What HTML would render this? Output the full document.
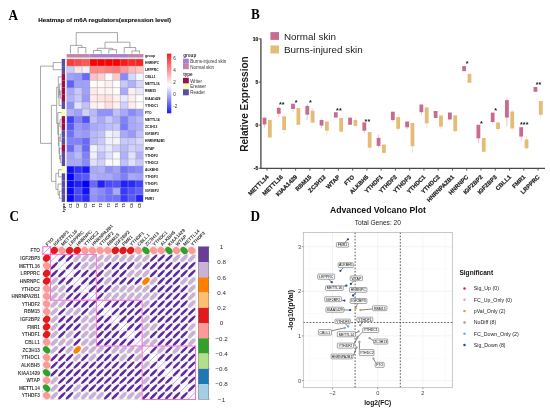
<!DOCTYPE html>
<html><head><meta charset="utf-8"><title>m6A figure</title>
<style>
html,body{margin:0;padding:0;background:#fff;}
body{width:550px;height:412px;overflow:hidden;font-family:"Liberation Sans", sans-serif;}
svg{display:block;filter:blur(0.3px);}
</style></head>
<body>
<svg width="550" height="412" viewBox="0 0 550 412">
<rect x="0" y="0" width="550" height="412" fill="#fff"/>
<text x="8.4" y="19.9" font-size="13.6" font-weight="bold" font-family='"Liberation Serif", serif' transform="translate(8.4 19.9) scale(0.97 1) translate(-8.4 -19.9)">A</text>
<text x="250.9" y="19.4" font-size="13.6" font-weight="bold" font-family='"Liberation Serif", serif' transform="translate(250.9 19.4) scale(0.97 1) translate(-250.9 -19.4)">B</text>
<text x="9.4" y="220.9" font-size="13.6" font-weight="bold" font-family='"Liberation Serif", serif' transform="translate(9.4 220.9) scale(0.97 1) translate(-9.4 -220.9)">C</text>
<text x="250.5" y="220.8" font-size="13.6" font-weight="bold" font-family='"Liberation Serif", serif' transform="translate(250.5 220.8) scale(0.97 1) translate(-250.5 -220.8)">D</text>
<text x="38.3" y="21.5" font-size="6.2" font-weight="bold" text-anchor="start" fill="#111" font-family='"Liberation Sans", sans-serif' stroke="#111" stroke-width="0.12">Heatmap of m6A regulators(expression level)</text>
<g shape-rendering="crispEdges">
<rect x="66.6" y="59" width="7.68" height="7.15" fill="#ff3838" stroke="none" stroke-width="0" />
<rect x="74.28" y="59" width="7.68" height="7.15" fill="#ff4848" stroke="none" stroke-width="0" />
<rect x="81.96" y="59" width="7.68" height="7.15" fill="#ff5858" stroke="none" stroke-width="0" />
<rect x="89.64" y="59" width="7.68" height="7.15" fill="#ff0000" stroke="none" stroke-width="0" />
<rect x="97.32" y="59" width="7.68" height="7.15" fill="#ff0000" stroke="none" stroke-width="0" />
<rect x="105" y="59" width="7.68" height="7.15" fill="#ff0000" stroke="none" stroke-width="0" />
<rect x="112.68" y="59" width="7.68" height="7.15" fill="#ff0000" stroke="none" stroke-width="0" />
<rect x="120.36" y="59" width="7.68" height="7.15" fill="#ff1818" stroke="none" stroke-width="0" />
<rect x="128.04" y="59" width="7.68" height="7.15" fill="#ff2828" stroke="none" stroke-width="0" />
<rect x="135.72" y="59" width="7.68" height="7.15" fill="#ff2020" stroke="none" stroke-width="0" />
<rect x="66.6" y="66.14" width="7.68" height="7.15" fill="#c8c8ff" stroke="none" stroke-width="0" />
<rect x="74.28" y="66.14" width="7.68" height="7.15" fill="#ffe4e4" stroke="none" stroke-width="0" />
<rect x="81.96" y="66.14" width="7.68" height="7.15" fill="#f0f0ff" stroke="none" stroke-width="0" />
<rect x="89.64" y="66.14" width="7.68" height="7.15" fill="#ff8888" stroke="none" stroke-width="0" />
<rect x="97.32" y="66.14" width="7.68" height="7.15" fill="#ff8c8c" stroke="none" stroke-width="0" />
<rect x="105" y="66.14" width="7.68" height="7.15" fill="#ff8080" stroke="none" stroke-width="0" />
<rect x="112.68" y="66.14" width="7.68" height="7.15" fill="#ff7878" stroke="none" stroke-width="0" />
<rect x="120.36" y="66.14" width="7.68" height="7.15" fill="#ff9898" stroke="none" stroke-width="0" />
<rect x="128.04" y="66.14" width="7.68" height="7.15" fill="#ffb8b8" stroke="none" stroke-width="0" />
<rect x="135.72" y="66.14" width="7.68" height="7.15" fill="#ffc8c8" stroke="none" stroke-width="0" />
<rect x="66.6" y="73.29" width="7.68" height="7.15" fill="#a0a0ff" stroke="none" stroke-width="0" />
<rect x="74.28" y="73.29" width="7.68" height="7.15" fill="#9898ff" stroke="none" stroke-width="0" />
<rect x="81.96" y="73.29" width="7.68" height="7.15" fill="#6868ff" stroke="none" stroke-width="0" />
<rect x="89.64" y="73.29" width="7.68" height="7.15" fill="#ffc0c0" stroke="none" stroke-width="0" />
<rect x="97.32" y="73.29" width="7.68" height="7.15" fill="#ffd0d0" stroke="none" stroke-width="0" />
<rect x="105" y="73.29" width="7.68" height="7.15" fill="#fffcfc" stroke="none" stroke-width="0" />
<rect x="112.68" y="73.29" width="7.68" height="7.15" fill="#ffc8c8" stroke="none" stroke-width="0" />
<rect x="120.36" y="73.29" width="7.68" height="7.15" fill="#8888ff" stroke="none" stroke-width="0" />
<rect x="128.04" y="73.29" width="7.68" height="7.15" fill="#d8d8ff" stroke="none" stroke-width="0" />
<rect x="135.72" y="73.29" width="7.68" height="7.15" fill="#f8f8ff" stroke="none" stroke-width="0" />
<rect x="66.6" y="80.44" width="7.68" height="7.15" fill="#6060ff" stroke="none" stroke-width="0" />
<rect x="74.28" y="80.44" width="7.68" height="7.15" fill="#a0a0ff" stroke="none" stroke-width="0" />
<rect x="81.96" y="80.44" width="7.68" height="7.15" fill="#a0a0ff" stroke="none" stroke-width="0" />
<rect x="89.64" y="80.44" width="7.68" height="7.15" fill="#fffcfc" stroke="none" stroke-width="0" />
<rect x="97.32" y="80.44" width="7.68" height="7.15" fill="#fffafa" stroke="none" stroke-width="0" />
<rect x="105" y="80.44" width="7.68" height="7.15" fill="#fff0f0" stroke="none" stroke-width="0" />
<rect x="112.68" y="80.44" width="7.68" height="7.15" fill="#fffcfc" stroke="none" stroke-width="0" />
<rect x="120.36" y="80.44" width="7.68" height="7.15" fill="#c8c8ff" stroke="none" stroke-width="0" />
<rect x="128.04" y="80.44" width="7.68" height="7.15" fill="#b0b0ff" stroke="none" stroke-width="0" />
<rect x="135.72" y="80.44" width="7.68" height="7.15" fill="#d8d8ff" stroke="none" stroke-width="0" />
<rect x="66.6" y="87.58" width="7.68" height="7.15" fill="#a8a8ff" stroke="none" stroke-width="0" />
<rect x="74.28" y="87.58" width="7.68" height="7.15" fill="#c8c8ff" stroke="none" stroke-width="0" />
<rect x="81.96" y="87.58" width="7.68" height="7.15" fill="#a0a0ff" stroke="none" stroke-width="0" />
<rect x="89.64" y="87.58" width="7.68" height="7.15" fill="#ffe8e8" stroke="none" stroke-width="0" />
<rect x="97.32" y="87.58" width="7.68" height="7.15" fill="#fff4f4" stroke="none" stroke-width="0" />
<rect x="105" y="87.58" width="7.68" height="7.15" fill="#fff4f4" stroke="none" stroke-width="0" />
<rect x="112.68" y="87.58" width="7.68" height="7.15" fill="#fffcfc" stroke="none" stroke-width="0" />
<rect x="120.36" y="87.58" width="7.68" height="7.15" fill="#a8a8ff" stroke="none" stroke-width="0" />
<rect x="128.04" y="87.58" width="7.68" height="7.15" fill="#fff0f0" stroke="none" stroke-width="0" />
<rect x="135.72" y="87.58" width="7.68" height="7.15" fill="#e8e8ff" stroke="none" stroke-width="0" />
<rect x="66.6" y="94.72" width="7.68" height="7.15" fill="#b0b0ff" stroke="none" stroke-width="0" />
<rect x="74.28" y="94.72" width="7.68" height="7.15" fill="#c8c8ff" stroke="none" stroke-width="0" />
<rect x="81.96" y="94.72" width="7.68" height="7.15" fill="#9898ff" stroke="none" stroke-width="0" />
<rect x="89.64" y="94.72" width="7.68" height="7.15" fill="#ffeaea" stroke="none" stroke-width="0" />
<rect x="97.32" y="94.72" width="7.68" height="7.15" fill="#ffe4e4" stroke="none" stroke-width="0" />
<rect x="105" y="94.72" width="7.68" height="7.15" fill="#ffe0e0" stroke="none" stroke-width="0" />
<rect x="112.68" y="94.72" width="7.68" height="7.15" fill="#fff0f0" stroke="none" stroke-width="0" />
<rect x="120.36" y="94.72" width="7.68" height="7.15" fill="#e8e8ff" stroke="none" stroke-width="0" />
<rect x="128.04" y="94.72" width="7.68" height="7.15" fill="#ffeeee" stroke="none" stroke-width="0" />
<rect x="135.72" y="94.72" width="7.68" height="7.15" fill="#fffcfc" stroke="none" stroke-width="0" />
<rect x="66.6" y="101.87" width="7.68" height="7.15" fill="#9090ff" stroke="none" stroke-width="0" />
<rect x="74.28" y="101.87" width="7.68" height="7.15" fill="#e0e0ff" stroke="none" stroke-width="0" />
<rect x="81.96" y="101.87" width="7.68" height="7.15" fill="#c0c0ff" stroke="none" stroke-width="0" />
<rect x="89.64" y="101.87" width="7.68" height="7.15" fill="#fff0f0" stroke="none" stroke-width="0" />
<rect x="97.32" y="101.87" width="7.68" height="7.15" fill="#fff4f4" stroke="none" stroke-width="0" />
<rect x="105" y="101.87" width="7.68" height="7.15" fill="#ffe0e0" stroke="none" stroke-width="0" />
<rect x="112.68" y="101.87" width="7.68" height="7.15" fill="#fff0f0" stroke="none" stroke-width="0" />
<rect x="120.36" y="101.87" width="7.68" height="7.15" fill="#d0d0ff" stroke="none" stroke-width="0" />
<rect x="128.04" y="101.87" width="7.68" height="7.15" fill="#ffecec" stroke="none" stroke-width="0" />
<rect x="135.72" y="101.87" width="7.68" height="7.15" fill="#fffcfc" stroke="none" stroke-width="0" />
<rect x="66.6" y="109.02" width="7.68" height="7.15" fill="#b0b0ff" stroke="none" stroke-width="0" />
<rect x="74.28" y="109.02" width="7.68" height="7.15" fill="#a0a0ff" stroke="none" stroke-width="0" />
<rect x="81.96" y="109.02" width="7.68" height="7.15" fill="#d0d0ff" stroke="none" stroke-width="0" />
<rect x="89.64" y="109.02" width="7.68" height="7.15" fill="#b8b8ff" stroke="none" stroke-width="0" />
<rect x="97.32" y="109.02" width="7.68" height="7.15" fill="#9090ff" stroke="none" stroke-width="0" />
<rect x="105" y="109.02" width="7.68" height="7.15" fill="#9090ff" stroke="none" stroke-width="0" />
<rect x="112.68" y="109.02" width="7.68" height="7.15" fill="#c0c0ff" stroke="none" stroke-width="0" />
<rect x="120.36" y="109.02" width="7.68" height="7.15" fill="#a8a8ff" stroke="none" stroke-width="0" />
<rect x="128.04" y="109.02" width="7.68" height="7.15" fill="#8888ff" stroke="none" stroke-width="0" />
<rect x="135.72" y="109.02" width="7.68" height="7.15" fill="#a0a0ff" stroke="none" stroke-width="0" />
<rect x="66.6" y="116.16" width="7.68" height="7.15" fill="#4040ff" stroke="none" stroke-width="0" />
<rect x="74.28" y="116.16" width="7.68" height="7.15" fill="#8080ff" stroke="none" stroke-width="0" />
<rect x="81.96" y="116.16" width="7.68" height="7.15" fill="#5050ff" stroke="none" stroke-width="0" />
<rect x="89.64" y="116.16" width="7.68" height="7.15" fill="#c0c0ff" stroke="none" stroke-width="0" />
<rect x="97.32" y="116.16" width="7.68" height="7.15" fill="#a8a8ff" stroke="none" stroke-width="0" />
<rect x="105" y="116.16" width="7.68" height="7.15" fill="#c8c8ff" stroke="none" stroke-width="0" />
<rect x="112.68" y="116.16" width="7.68" height="7.15" fill="#b0b0ff" stroke="none" stroke-width="0" />
<rect x="120.36" y="116.16" width="7.68" height="7.15" fill="#8080ff" stroke="none" stroke-width="0" />
<rect x="128.04" y="116.16" width="7.68" height="7.15" fill="#a8a8ff" stroke="none" stroke-width="0" />
<rect x="135.72" y="116.16" width="7.68" height="7.15" fill="#b8b8ff" stroke="none" stroke-width="0" />
<rect x="66.6" y="123.31" width="7.68" height="7.15" fill="#5858ff" stroke="none" stroke-width="0" />
<rect x="74.28" y="123.31" width="7.68" height="7.15" fill="#9898ff" stroke="none" stroke-width="0" />
<rect x="81.96" y="123.31" width="7.68" height="7.15" fill="#8888ff" stroke="none" stroke-width="0" />
<rect x="89.64" y="123.31" width="7.68" height="7.15" fill="#a8a8ff" stroke="none" stroke-width="0" />
<rect x="97.32" y="123.31" width="7.68" height="7.15" fill="#b0b0ff" stroke="none" stroke-width="0" />
<rect x="105" y="123.31" width="7.68" height="7.15" fill="#bcbcff" stroke="none" stroke-width="0" />
<rect x="112.68" y="123.31" width="7.68" height="7.15" fill="#c4c4ff" stroke="none" stroke-width="0" />
<rect x="120.36" y="123.31" width="7.68" height="7.15" fill="#7878ff" stroke="none" stroke-width="0" />
<rect x="128.04" y="123.31" width="7.68" height="7.15" fill="#a8a8ff" stroke="none" stroke-width="0" />
<rect x="135.72" y="123.31" width="7.68" height="7.15" fill="#b0b0ff" stroke="none" stroke-width="0" />
<rect x="66.6" y="130.45" width="7.68" height="7.15" fill="#7070ff" stroke="none" stroke-width="0" />
<rect x="74.28" y="130.45" width="7.68" height="7.15" fill="#a0a0ff" stroke="none" stroke-width="0" />
<rect x="81.96" y="130.45" width="7.68" height="7.15" fill="#9898ff" stroke="none" stroke-width="0" />
<rect x="89.64" y="130.45" width="7.68" height="7.15" fill="#b8b8ff" stroke="none" stroke-width="0" />
<rect x="97.32" y="130.45" width="7.68" height="7.15" fill="#c0c0ff" stroke="none" stroke-width="0" />
<rect x="105" y="130.45" width="7.68" height="7.15" fill="#f0f0ff" stroke="none" stroke-width="0" />
<rect x="112.68" y="130.45" width="7.68" height="7.15" fill="#e8e8ff" stroke="none" stroke-width="0" />
<rect x="120.36" y="130.45" width="7.68" height="7.15" fill="#a8a8ff" stroke="none" stroke-width="0" />
<rect x="128.04" y="130.45" width="7.68" height="7.15" fill="#9898ff" stroke="none" stroke-width="0" />
<rect x="135.72" y="130.45" width="7.68" height="7.15" fill="#c0c0ff" stroke="none" stroke-width="0" />
<rect x="66.6" y="137.59" width="7.68" height="7.15" fill="#8080ff" stroke="none" stroke-width="0" />
<rect x="74.28" y="137.59" width="7.68" height="7.15" fill="#8080ff" stroke="none" stroke-width="0" />
<rect x="81.96" y="137.59" width="7.68" height="7.15" fill="#6868ff" stroke="none" stroke-width="0" />
<rect x="89.64" y="137.59" width="7.68" height="7.15" fill="#b8b8ff" stroke="none" stroke-width="0" />
<rect x="97.32" y="137.59" width="7.68" height="7.15" fill="#c8c8ff" stroke="none" stroke-width="0" />
<rect x="105" y="137.59" width="7.68" height="7.15" fill="#f0f0ff" stroke="none" stroke-width="0" />
<rect x="112.68" y="137.59" width="7.68" height="7.15" fill="#f4f4ff" stroke="none" stroke-width="0" />
<rect x="120.36" y="137.59" width="7.68" height="7.15" fill="#c8c8ff" stroke="none" stroke-width="0" />
<rect x="128.04" y="137.59" width="7.68" height="7.15" fill="#c8c8ff" stroke="none" stroke-width="0" />
<rect x="135.72" y="137.59" width="7.68" height="7.15" fill="#d8d8ff" stroke="none" stroke-width="0" />
<rect x="66.6" y="144.74" width="7.68" height="7.15" fill="#6868ff" stroke="none" stroke-width="0" />
<rect x="74.28" y="144.74" width="7.68" height="7.15" fill="#a8a8ff" stroke="none" stroke-width="0" />
<rect x="81.96" y="144.74" width="7.68" height="7.15" fill="#6868ff" stroke="none" stroke-width="0" />
<rect x="89.64" y="144.74" width="7.68" height="7.15" fill="#f4f4ff" stroke="none" stroke-width="0" />
<rect x="97.32" y="144.74" width="7.68" height="7.15" fill="#d8d8ff" stroke="none" stroke-width="0" />
<rect x="105" y="144.74" width="7.68" height="7.15" fill="#e8e8ff" stroke="none" stroke-width="0" />
<rect x="112.68" y="144.74" width="7.68" height="7.15" fill="#d0d0ff" stroke="none" stroke-width="0" />
<rect x="120.36" y="144.74" width="7.68" height="7.15" fill="#b8b8ff" stroke="none" stroke-width="0" />
<rect x="128.04" y="144.74" width="7.68" height="7.15" fill="#d0d0ff" stroke="none" stroke-width="0" />
<rect x="135.72" y="144.74" width="7.68" height="7.15" fill="#c8c8ff" stroke="none" stroke-width="0" />
<rect x="66.6" y="151.88" width="7.68" height="7.15" fill="#a0a0ff" stroke="none" stroke-width="0" />
<rect x="74.28" y="151.88" width="7.68" height="7.15" fill="#b8b8ff" stroke="none" stroke-width="0" />
<rect x="81.96" y="151.88" width="7.68" height="7.15" fill="#8080ff" stroke="none" stroke-width="0" />
<rect x="89.64" y="151.88" width="7.68" height="7.15" fill="#f0f0ff" stroke="none" stroke-width="0" />
<rect x="97.32" y="151.88" width="7.68" height="7.15" fill="#c0c0ff" stroke="none" stroke-width="0" />
<rect x="105" y="151.88" width="7.68" height="7.15" fill="#e0e0ff" stroke="none" stroke-width="0" />
<rect x="112.68" y="151.88" width="7.68" height="7.15" fill="#f8f8ff" stroke="none" stroke-width="0" />
<rect x="120.36" y="151.88" width="7.68" height="7.15" fill="#b0b0ff" stroke="none" stroke-width="0" />
<rect x="128.04" y="151.88" width="7.68" height="7.15" fill="#e0e0ff" stroke="none" stroke-width="0" />
<rect x="135.72" y="151.88" width="7.68" height="7.15" fill="#b0b0ff" stroke="none" stroke-width="0" />
<rect x="66.6" y="159.03" width="7.68" height="7.15" fill="#a8a8ff" stroke="none" stroke-width="0" />
<rect x="74.28" y="159.03" width="7.68" height="7.15" fill="#a8a8ff" stroke="none" stroke-width="0" />
<rect x="81.96" y="159.03" width="7.68" height="7.15" fill="#8888ff" stroke="none" stroke-width="0" />
<rect x="89.64" y="159.03" width="7.68" height="7.15" fill="#e0e0ff" stroke="none" stroke-width="0" />
<rect x="97.32" y="159.03" width="7.68" height="7.15" fill="#d0d0ff" stroke="none" stroke-width="0" />
<rect x="105" y="159.03" width="7.68" height="7.15" fill="#f8f8ff" stroke="none" stroke-width="0" />
<rect x="112.68" y="159.03" width="7.68" height="7.15" fill="#f8f8ff" stroke="none" stroke-width="0" />
<rect x="120.36" y="159.03" width="7.68" height="7.15" fill="#c0c0ff" stroke="none" stroke-width="0" />
<rect x="128.04" y="159.03" width="7.68" height="7.15" fill="#e0e0ff" stroke="none" stroke-width="0" />
<rect x="135.72" y="159.03" width="7.68" height="7.15" fill="#c8c8ff" stroke="none" stroke-width="0" />
<rect x="66.6" y="166.18" width="7.68" height="7.15" fill="#1010ff" stroke="none" stroke-width="0" />
<rect x="74.28" y="166.18" width="7.68" height="7.15" fill="#3030ff" stroke="none" stroke-width="0" />
<rect x="81.96" y="166.18" width="7.68" height="7.15" fill="#1818ff" stroke="none" stroke-width="0" />
<rect x="89.64" y="166.18" width="7.68" height="7.15" fill="#a8a8ff" stroke="none" stroke-width="0" />
<rect x="97.32" y="166.18" width="7.68" height="7.15" fill="#b0b0ff" stroke="none" stroke-width="0" />
<rect x="105" y="166.18" width="7.68" height="7.15" fill="#9090ff" stroke="none" stroke-width="0" />
<rect x="112.68" y="166.18" width="7.68" height="7.15" fill="#a0a0ff" stroke="none" stroke-width="0" />
<rect x="120.36" y="166.18" width="7.68" height="7.15" fill="#7070ff" stroke="none" stroke-width="0" />
<rect x="128.04" y="166.18" width="7.68" height="7.15" fill="#8080ff" stroke="none" stroke-width="0" />
<rect x="135.72" y="166.18" width="7.68" height="7.15" fill="#8888ff" stroke="none" stroke-width="0" />
<rect x="66.6" y="173.32" width="7.68" height="7.15" fill="#0000ff" stroke="none" stroke-width="0" />
<rect x="74.28" y="173.32" width="7.68" height="7.15" fill="#5050ff" stroke="none" stroke-width="0" />
<rect x="81.96" y="173.32" width="7.68" height="7.15" fill="#5858ff" stroke="none" stroke-width="0" />
<rect x="89.64" y="173.32" width="7.68" height="7.15" fill="#b0b0ff" stroke="none" stroke-width="0" />
<rect x="97.32" y="173.32" width="7.68" height="7.15" fill="#a8a8ff" stroke="none" stroke-width="0" />
<rect x="105" y="173.32" width="7.68" height="7.15" fill="#a8a8ff" stroke="none" stroke-width="0" />
<rect x="112.68" y="173.32" width="7.68" height="7.15" fill="#9898ff" stroke="none" stroke-width="0" />
<rect x="120.36" y="173.32" width="7.68" height="7.15" fill="#8080ff" stroke="none" stroke-width="0" />
<rect x="128.04" y="173.32" width="7.68" height="7.15" fill="#a8a8ff" stroke="none" stroke-width="0" />
<rect x="135.72" y="173.32" width="7.68" height="7.15" fill="#a0a0ff" stroke="none" stroke-width="0" />
<rect x="66.6" y="180.47" width="7.68" height="7.15" fill="#0808ff" stroke="none" stroke-width="0" />
<rect x="74.28" y="180.47" width="7.68" height="7.15" fill="#2020ff" stroke="none" stroke-width="0" />
<rect x="81.96" y="180.47" width="7.68" height="7.15" fill="#0000ff" stroke="none" stroke-width="0" />
<rect x="89.64" y="180.47" width="7.68" height="7.15" fill="#6868ff" stroke="none" stroke-width="0" />
<rect x="97.32" y="180.47" width="7.68" height="7.15" fill="#2020ff" stroke="none" stroke-width="0" />
<rect x="105" y="180.47" width="7.68" height="7.15" fill="#4848ff" stroke="none" stroke-width="0" />
<rect x="112.68" y="180.47" width="7.68" height="7.15" fill="#5050ff" stroke="none" stroke-width="0" />
<rect x="120.36" y="180.47" width="7.68" height="7.15" fill="#2020ff" stroke="none" stroke-width="0" />
<rect x="128.04" y="180.47" width="7.68" height="7.15" fill="#2828ff" stroke="none" stroke-width="0" />
<rect x="135.72" y="180.47" width="7.68" height="7.15" fill="#4040ff" stroke="none" stroke-width="0" />
<rect x="66.6" y="187.61" width="7.68" height="7.15" fill="#0808ff" stroke="none" stroke-width="0" />
<rect x="74.28" y="187.61" width="7.68" height="7.15" fill="#4848ff" stroke="none" stroke-width="0" />
<rect x="81.96" y="187.61" width="7.68" height="7.15" fill="#1010ff" stroke="none" stroke-width="0" />
<rect x="89.64" y="187.61" width="7.68" height="7.15" fill="#9898ff" stroke="none" stroke-width="0" />
<rect x="97.32" y="187.61" width="7.68" height="7.15" fill="#8888ff" stroke="none" stroke-width="0" />
<rect x="105" y="187.61" width="7.68" height="7.15" fill="#7070ff" stroke="none" stroke-width="0" />
<rect x="112.68" y="187.61" width="7.68" height="7.15" fill="#a8a8ff" stroke="none" stroke-width="0" />
<rect x="120.36" y="187.61" width="7.68" height="7.15" fill="#3838ff" stroke="none" stroke-width="0" />
<rect x="128.04" y="187.61" width="7.68" height="7.15" fill="#5050ff" stroke="none" stroke-width="0" />
<rect x="135.72" y="187.61" width="7.68" height="7.15" fill="#6060ff" stroke="none" stroke-width="0" />
<rect x="66.6" y="194.75" width="7.68" height="7.15" fill="#0808ff" stroke="none" stroke-width="0" />
<rect x="74.28" y="194.75" width="7.68" height="7.15" fill="#4040ff" stroke="none" stroke-width="0" />
<rect x="81.96" y="194.75" width="7.68" height="7.15" fill="#2828ff" stroke="none" stroke-width="0" />
<rect x="89.64" y="194.75" width="7.68" height="7.15" fill="#9090ff" stroke="none" stroke-width="0" />
<rect x="97.32" y="194.75" width="7.68" height="7.15" fill="#8080ff" stroke="none" stroke-width="0" />
<rect x="105" y="194.75" width="7.68" height="7.15" fill="#7070ff" stroke="none" stroke-width="0" />
<rect x="112.68" y="194.75" width="7.68" height="7.15" fill="#7070ff" stroke="none" stroke-width="0" />
<rect x="120.36" y="194.75" width="7.68" height="7.15" fill="#3838ff" stroke="none" stroke-width="0" />
<rect x="128.04" y="194.75" width="7.68" height="7.15" fill="#5858ff" stroke="none" stroke-width="0" />
<rect x="135.72" y="194.75" width="7.68" height="7.15" fill="#2020ff" stroke="none" stroke-width="0" />
</g>
<g stroke="#a4a4a4" stroke-width="0.5">
<line x1="66.6" y1="59" x2="66.6" y2="201.9"/>
<line x1="74.28" y1="59" x2="74.28" y2="201.9"/>
<line x1="81.96" y1="59" x2="81.96" y2="201.9"/>
<line x1="89.64" y1="59" x2="89.64" y2="201.9"/>
<line x1="97.32" y1="59" x2="97.32" y2="201.9"/>
<line x1="105" y1="59" x2="105" y2="201.9"/>
<line x1="112.68" y1="59" x2="112.68" y2="201.9"/>
<line x1="120.36" y1="59" x2="120.36" y2="201.9"/>
<line x1="128.04" y1="59" x2="128.04" y2="201.9"/>
<line x1="135.72" y1="59" x2="135.72" y2="201.9"/>
<line x1="143.4" y1="59" x2="143.4" y2="201.9"/>
<line x1="66.6" y1="59" x2="143.4" y2="59"/>
<line x1="66.6" y1="66.14" x2="143.4" y2="66.14"/>
<line x1="66.6" y1="73.29" x2="143.4" y2="73.29"/>
<line x1="66.6" y1="80.44" x2="143.4" y2="80.44"/>
<line x1="66.6" y1="87.58" x2="143.4" y2="87.58"/>
<line x1="66.6" y1="94.72" x2="143.4" y2="94.72"/>
<line x1="66.6" y1="101.87" x2="143.4" y2="101.87"/>
<line x1="66.6" y1="109.02" x2="143.4" y2="109.02"/>
<line x1="66.6" y1="116.16" x2="143.4" y2="116.16"/>
<line x1="66.6" y1="123.31" x2="143.4" y2="123.31"/>
<line x1="66.6" y1="130.45" x2="143.4" y2="130.45"/>
<line x1="66.6" y1="137.59" x2="143.4" y2="137.59"/>
<line x1="66.6" y1="144.74" x2="143.4" y2="144.74"/>
<line x1="66.6" y1="151.88" x2="143.4" y2="151.88"/>
<line x1="66.6" y1="159.03" x2="143.4" y2="159.03"/>
<line x1="66.6" y1="166.18" x2="143.4" y2="166.18"/>
<line x1="66.6" y1="173.32" x2="143.4" y2="173.32"/>
<line x1="66.6" y1="180.47" x2="143.4" y2="180.47"/>
<line x1="66.6" y1="187.61" x2="143.4" y2="187.61"/>
<line x1="66.6" y1="194.75" x2="143.4" y2="194.75"/>
<line x1="66.6" y1="201.9" x2="143.4" y2="201.9"/>
</g>
<rect x="66.6" y="54.1" width="23.04" height="3.4" fill="#c283aa" stroke="none" stroke-width="0" />
<rect x="89.64" y="54.1" width="38.4" height="3.4" fill="#aa80cc" stroke="none" stroke-width="0" />
<rect x="128.04" y="54.1" width="15.36" height="3.4" fill="#c283aa" stroke="none" stroke-width="0" />
<rect x="61.7" y="59" width="3.4" height="7.15" fill="#5a4ea2" stroke="none" stroke-width="0" />
<rect x="61.7" y="66.14" width="3.4" height="7.15" fill="#5a4ea2" stroke="none" stroke-width="0" />
<rect x="61.7" y="73.29" width="3.4" height="7.15" fill="#9c0f4a" stroke="none" stroke-width="0" />
<rect x="61.7" y="80.44" width="3.4" height="7.15" fill="#9c0f4a" stroke="none" stroke-width="0" />
<rect x="61.7" y="87.58" width="3.4" height="7.15" fill="#9c0f4a" stroke="none" stroke-width="0" />
<rect x="61.7" y="94.72" width="3.4" height="7.15" fill="#9c0f4a" stroke="none" stroke-width="0" />
<rect x="61.7" y="101.87" width="3.4" height="7.15" fill="#5a4ea2" stroke="none" stroke-width="0" />
<rect x="61.7" y="109.02" width="3.4" height="7.15" fill="#fdfbb6" stroke="none" stroke-width="0" />
<rect x="61.7" y="116.16" width="3.4" height="7.15" fill="#9c0f4a" stroke="none" stroke-width="0" />
<rect x="61.7" y="123.31" width="3.4" height="7.15" fill="#9c0f4a" stroke="none" stroke-width="0" />
<rect x="61.7" y="130.45" width="3.4" height="7.15" fill="#5a4ea2" stroke="none" stroke-width="0" />
<rect x="61.7" y="137.59" width="3.4" height="7.15" fill="#5a4ea2" stroke="none" stroke-width="0" />
<rect x="61.7" y="144.74" width="3.4" height="7.15" fill="#9c0f4a" stroke="none" stroke-width="0" />
<rect x="61.7" y="151.88" width="3.4" height="7.15" fill="#5a4ea2" stroke="none" stroke-width="0" />
<rect x="61.7" y="159.03" width="3.4" height="7.15" fill="#5a4ea2" stroke="none" stroke-width="0" />
<rect x="61.7" y="166.18" width="3.4" height="7.15" fill="#fdfbb6" stroke="none" stroke-width="0" />
<rect x="61.7" y="173.32" width="3.4" height="7.15" fill="#5a4ea2" stroke="none" stroke-width="0" />
<rect x="61.7" y="180.47" width="3.4" height="7.15" fill="#5a4ea2" stroke="none" stroke-width="0" />
<rect x="61.7" y="187.61" width="3.4" height="7.15" fill="#5a4ea2" stroke="none" stroke-width="0" />
<rect x="61.7" y="194.75" width="3.4" height="7.15" fill="#5a4ea2" stroke="none" stroke-width="0" />
<text x="145" y="63.77" font-size="3.3" font-weight="bold" text-anchor="start" fill="#111" font-family='"Liberation Sans", sans-serif' >HNRNPC</text>
<text x="145" y="70.92" font-size="3.3" font-weight="bold" text-anchor="start" fill="#111" font-family='"Liberation Sans", sans-serif' >LRPPRC</text>
<text x="145" y="78.06" font-size="3.3" font-weight="bold" text-anchor="start" fill="#111" font-family='"Liberation Sans", sans-serif' >CBLL1</text>
<text x="145" y="85.21" font-size="3.3" font-weight="bold" text-anchor="start" fill="#111" font-family='"Liberation Sans", sans-serif' >METTL16</text>
<text x="145" y="92.35" font-size="3.3" font-weight="bold" text-anchor="start" fill="#111" font-family='"Liberation Sans", sans-serif' >RBM15</text>
<text x="145" y="99.5" font-size="3.3" font-weight="bold" text-anchor="start" fill="#111" font-family='"Liberation Sans", sans-serif' >KIAA1429</text>
<text x="145" y="106.64" font-size="3.3" font-weight="bold" text-anchor="start" fill="#111" font-family='"Liberation Sans", sans-serif' >YTHDC1</text>
<text x="145" y="113.79" font-size="3.3" font-weight="bold" text-anchor="start" fill="#111" font-family='"Liberation Sans", sans-serif' >FTO</text>
<text x="145" y="120.93" font-size="3.3" font-weight="bold" text-anchor="start" fill="#111" font-family='"Liberation Sans", sans-serif' >METTL14</text>
<text x="145" y="128.08" font-size="3.3" font-weight="bold" text-anchor="start" fill="#111" font-family='"Liberation Sans", sans-serif' >ZC3H13</text>
<text x="145" y="135.22" font-size="3.3" font-weight="bold" text-anchor="start" fill="#111" font-family='"Liberation Sans", sans-serif' >IGF2BP3</text>
<text x="145" y="142.37" font-size="3.3" font-weight="bold" text-anchor="start" fill="#111" font-family='"Liberation Sans", sans-serif' >HNRNPA2B1</text>
<text x="145" y="149.51" font-size="3.3" font-weight="bold" text-anchor="start" fill="#111" font-family='"Liberation Sans", sans-serif' >WTAP</text>
<text x="145" y="156.66" font-size="3.3" font-weight="bold" text-anchor="start" fill="#111" font-family='"Liberation Sans", sans-serif' >YTHDF2</text>
<text x="145" y="163.8" font-size="3.3" font-weight="bold" text-anchor="start" fill="#111" font-family='"Liberation Sans", sans-serif' >YTHDC2</text>
<text x="145" y="170.95" font-size="3.3" font-weight="bold" text-anchor="start" fill="#111" font-family='"Liberation Sans", sans-serif' >ALKBH5</text>
<text x="145" y="178.09" font-size="3.3" font-weight="bold" text-anchor="start" fill="#111" font-family='"Liberation Sans", sans-serif' >YTHDF3</text>
<text x="145" y="185.24" font-size="3.3" font-weight="bold" text-anchor="start" fill="#111" font-family='"Liberation Sans", sans-serif' >YTHDF1</text>
<text x="145" y="192.38" font-size="3.3" font-weight="bold" text-anchor="start" fill="#111" font-family='"Liberation Sans", sans-serif' >IGF2BP2</text>
<text x="145" y="199.53" font-size="3.3" font-weight="bold" text-anchor="start" fill="#111" font-family='"Liberation Sans", sans-serif' >FMR1</text>
<text x="145" y="57" font-size="3.6" font-weight="bold" text-anchor="start" fill="#111" font-family='"Liberation Sans", sans-serif' >group</text>
<text x="71.64" y="203.2" font-size="3.5" font-weight="bold" fill="#1a1a1a" text-anchor="end" font-family='"Liberation Sans", sans-serif' transform="rotate(-90 71.64 203.2)">C1</text>
<text x="79.32" y="203.2" font-size="3.5" font-weight="bold" fill="#1a1a1a" text-anchor="end" font-family='"Liberation Sans", sans-serif' transform="rotate(-90 79.32 203.2)">C2</text>
<text x="87" y="203.2" font-size="3.5" font-weight="bold" fill="#1a1a1a" text-anchor="end" font-family='"Liberation Sans", sans-serif' transform="rotate(-90 87 203.2)">C3</text>
<text x="94.68" y="203.2" font-size="3.5" font-weight="bold" fill="#1a1a1a" text-anchor="end" font-family='"Liberation Sans", sans-serif' transform="rotate(-90 94.68 203.2)">T1</text>
<text x="102.36" y="203.2" font-size="3.5" font-weight="bold" fill="#1a1a1a" text-anchor="end" font-family='"Liberation Sans", sans-serif' transform="rotate(-90 102.36 203.2)">T2</text>
<text x="110.04" y="203.2" font-size="3.5" font-weight="bold" fill="#1a1a1a" text-anchor="end" font-family='"Liberation Sans", sans-serif' transform="rotate(-90 110.04 203.2)">T3</text>
<text x="117.72" y="203.2" font-size="3.5" font-weight="bold" fill="#1a1a1a" text-anchor="end" font-family='"Liberation Sans", sans-serif' transform="rotate(-90 117.72 203.2)">T4</text>
<text x="125.4" y="203.2" font-size="3.5" font-weight="bold" fill="#1a1a1a" text-anchor="end" font-family='"Liberation Sans", sans-serif' transform="rotate(-90 125.4 203.2)">T5</text>
<text x="133.08" y="203.2" font-size="3.5" font-weight="bold" fill="#1a1a1a" text-anchor="end" font-family='"Liberation Sans", sans-serif' transform="rotate(-90 133.08 203.2)">C4</text>
<text x="140.76" y="203.2" font-size="3.5" font-weight="bold" fill="#1a1a1a" text-anchor="end" font-family='"Liberation Sans", sans-serif' transform="rotate(-90 140.76 203.2)">C5</text>
<text x="64.6" y="203.2" font-size="4.3" font-weight="bold" fill="#222" text-anchor="end" font-family='"Liberation Sans", sans-serif' transform="rotate(-90 64.6 203.2)">type</text>
<polyline points="78.12,53.6 78.12,47.5 85.8,47.5 85.8,53.6" fill="none" stroke="#7a7a7a" stroke-width="0.65"/>
<polyline points="70.44,53.6 70.44,45.4 81.96,45.4 81.96,47.5" fill="none" stroke="#7a7a7a" stroke-width="0.65"/>
<polyline points="93.48,53.6 93.48,50.5 101.16,50.5 101.16,53.6" fill="none" stroke="#7a7a7a" stroke-width="0.65"/>
<polyline points="108.84,53.6 108.84,49.7 116.52,49.7 116.52,53.6" fill="none" stroke="#7a7a7a" stroke-width="0.65"/>
<polyline points="97.32,50.5 97.32,48.3 112.68,48.3 112.68,49.7" fill="none" stroke="#7a7a7a" stroke-width="0.65"/>
<polyline points="131.88,53.6 131.88,50.9 139.56,50.9 139.56,53.6" fill="none" stroke="#7a7a7a" stroke-width="0.65"/>
<polyline points="124.2,53.6 124.2,47.5 135.72,47.5 135.72,50.9" fill="none" stroke="#7a7a7a" stroke-width="0.65"/>
<polyline points="105,48.3 105,42.2 129.96,42.2 129.96,47.5" fill="none" stroke="#7a7a7a" stroke-width="0.65"/>
<polyline points="76.2,45.4 76.2,32.6 117.48,32.6 117.48,42.2" fill="none" stroke="#7a7a7a" stroke-width="0.65"/>
<polyline points="61.6,62.57 53.2,62.57 53.2,69.72 61.6,69.72" fill="none" stroke="#7a7a7a" stroke-width="0.65"/>
<polyline points="61.6,91.15 60.3,91.15 60.3,98.3 61.6,98.3" fill="none" stroke="#7a7a7a" stroke-width="0.65"/>
<polyline points="61.6,84.01 59.6,84.01 59.6,94.72 60.3,94.72" fill="none" stroke="#7a7a7a" stroke-width="0.65"/>
<polyline points="59.6,89.37 59,89.37 59,105.44 61.6,105.44" fill="none" stroke="#7a7a7a" stroke-width="0.65"/>
<polyline points="61.6,76.86 58.3,76.86 58.3,97.4 59,97.4" fill="none" stroke="#7a7a7a" stroke-width="0.65"/>
<polyline points="61.6,119.73 60,119.73 60,126.88 61.6,126.88" fill="none" stroke="#7a7a7a" stroke-width="0.65"/>
<polyline points="61.6,134.02 60.2,134.02 60.2,141.17 61.6,141.17" fill="none" stroke="#7a7a7a" stroke-width="0.65"/>
<polyline points="61.6,155.46 60.4,155.46 60.4,162.6 61.6,162.6" fill="none" stroke="#7a7a7a" stroke-width="0.65"/>
<polyline points="61.6,148.31 59.6,148.31 59.6,159.03 60.4,159.03" fill="none" stroke="#7a7a7a" stroke-width="0.65"/>
<polyline points="60.2,137.6 59,137.6 59,153.67 59.6,153.67" fill="none" stroke="#7a7a7a" stroke-width="0.65"/>
<polyline points="60,123.31 58.4,123.31 58.4,145.63 59,145.63" fill="none" stroke="#7a7a7a" stroke-width="0.65"/>
<polyline points="61.6,112.59 57.8,112.59 57.8,134.47 58.4,134.47" fill="none" stroke="#7a7a7a" stroke-width="0.65"/>
<polyline points="58.3,87.13 56.7,87.13 56.7,123.53 57.8,123.53" fill="none" stroke="#7a7a7a" stroke-width="0.65"/>
<polyline points="61.6,169.75 58.6,169.75 58.6,176.89 61.6,176.89" fill="none" stroke="#7a7a7a" stroke-width="0.65"/>
<polyline points="61.6,191.18 59.4,191.18 59.4,198.33 61.6,198.33" fill="none" stroke="#7a7a7a" stroke-width="0.65"/>
<polyline points="61.6,184.04 58,184.04 58,194.75 59.4,194.75" fill="none" stroke="#7a7a7a" stroke-width="0.65"/>
<polyline points="58.6,173.32 55.9,173.32 55.9,189.4 58,189.4" fill="none" stroke="#7a7a7a" stroke-width="0.65"/>
<polyline points="56.7,105.33 51.4,105.33 51.4,181.36 55.9,181.36" fill="none" stroke="#7a7a7a" stroke-width="0.65"/>
<polyline points="53.2,66.14 40.5,66.14 40.5,143.34 51.4,143.34" fill="none" stroke="#7a7a7a" stroke-width="0.65"/>
<defs><linearGradient id="hg" x1="0" y1="0" x2="0" y2="1"><stop offset="0" stop-color="#ff1a1a"/><stop offset="0.53" stop-color="#ffffff"/><stop offset="1" stop-color="#1a1aff"/></linearGradient></defs>
<rect x="167" y="53.6" width="4.3" height="59.7" fill="url(#hg)" stroke="none" stroke-width="0" />
<text x="173.3" y="59.9" font-size="4.6" font-weight="normal" text-anchor="start" fill="#333" font-family='"Liberation Sans", sans-serif' >6</text>
<text x="173.3" y="72" font-size="4.6" font-weight="normal" text-anchor="start" fill="#333" font-family='"Liberation Sans", sans-serif' >4</text>
<text x="173.3" y="83.9" font-size="4.6" font-weight="normal" text-anchor="start" fill="#333" font-family='"Liberation Sans", sans-serif' >2</text>
<text x="173.3" y="95.8" font-size="4.6" font-weight="normal" text-anchor="start" fill="#333" font-family='"Liberation Sans", sans-serif' >0</text>
<text x="173.3" y="107.7" font-size="4.6" font-weight="normal" text-anchor="start" fill="#333" font-family='"Liberation Sans", sans-serif' >-2</text>
<text x="183.2" y="57" font-size="4.6" font-weight="bold" text-anchor="start" fill="#333" font-family='"Liberation Sans", sans-serif' >group</text>
<rect x="183" y="58.7" width="5.8" height="5.1" fill="#aa80cc" stroke="none" stroke-width="0" />
<rect x="183" y="63.8" width="5.8" height="5.4" fill="#c283aa" stroke="none" stroke-width="0" />
<text x="190.2" y="63" font-size="4.5" font-weight="normal" text-anchor="start" fill="#333" font-family='"Liberation Sans", sans-serif' >Burns-injured skin</text>
<text x="190.2" y="68.5" font-size="4.5" font-weight="normal" text-anchor="start" fill="#333" font-family='"Liberation Sans", sans-serif' >Normal skin</text>
<text x="183.2" y="75.8" font-size="4.6" font-weight="bold" text-anchor="start" fill="#333" font-family='"Liberation Sans", sans-serif' >type</text>
<rect x="183" y="77.8" width="5.8" height="5.8" fill="#9c0f4a" stroke="none" stroke-width="0" />
<rect x="183" y="83.6" width="5.8" height="5.7" fill="#fdfbb6" stroke="none" stroke-width="0" />
<rect x="183" y="89.3" width="5.8" height="6" fill="#5a4ea2" stroke="none" stroke-width="0" />
<text x="190.2" y="82.7" font-size="4.5" font-weight="normal" text-anchor="start" fill="#333" font-family='"Liberation Sans", sans-serif' >Writer</text>
<text x="190.2" y="88.4" font-size="4.5" font-weight="normal" text-anchor="start" fill="#333" font-family='"Liberation Sans", sans-serif' >Ereaser</text>
<text x="190.2" y="94.2" font-size="4.5" font-weight="normal" text-anchor="start" fill="#333" font-family='"Liberation Sans", sans-serif' >Reader</text>
<text x="284" y="40" font-size="9.85" font-weight="normal" text-anchor="start" fill="#1a1a1a" font-family='"Liberation Sans", sans-serif' >Normal skin</text>
<text x="284" y="53" font-size="9.85" font-weight="normal" text-anchor="start" fill="#1a1a1a" font-family='"Liberation Sans", sans-serif' >Burns-injured skin</text>
<rect x="270.4" y="32.1" width="8.6" height="7.8" fill="#c96b8f" stroke="none" stroke-width="0" />
<rect x="270.4" y="45.5" width="8.6" height="8" fill="#e3bd75" stroke="none" stroke-width="0" />
<line x1="260.9" y1="38.6" x2="260.9" y2="169.1" stroke="#4a4a4a" stroke-width="1.35" />
<line x1="260.3" y1="168.45" x2="545" y2="168.45" stroke="#4a4a4a" stroke-width="1.25" />
<line x1="258.8" y1="38.9" x2="260.9" y2="38.9" stroke="#4a4a4a" stroke-width="0.9" />
<text x="258.2" y="40.7" font-size="5" font-weight="bold" text-anchor="end" fill="#1a1a1a" font-family='"Liberation Sans", sans-serif' stroke="#1a1a1a" stroke-width="0.15">10</text>
<line x1="258.8" y1="82" x2="260.9" y2="82" stroke="#4a4a4a" stroke-width="0.9" />
<text x="258.2" y="83.8" font-size="5" font-weight="bold" text-anchor="end" fill="#1a1a1a" font-family='"Liberation Sans", sans-serif' stroke="#1a1a1a" stroke-width="0.15">5</text>
<line x1="258.8" y1="125.1" x2="260.9" y2="125.1" stroke="#4a4a4a" stroke-width="0.9" />
<text x="258.2" y="126.9" font-size="5" font-weight="bold" text-anchor="end" fill="#1a1a1a" font-family='"Liberation Sans", sans-serif' stroke="#1a1a1a" stroke-width="0.15">0</text>
<line x1="258.8" y1="168.2" x2="260.9" y2="168.2" stroke="#4a4a4a" stroke-width="0.9" />
<text x="258.2" y="170" font-size="5" font-weight="bold" text-anchor="end" fill="#1a1a1a" font-family='"Liberation Sans", sans-serif' stroke="#1a1a1a" stroke-width="0.15">-5</text>
<line x1="267.1" y1="168.4" x2="267.1" y2="170.6" stroke="#4a4a4a" stroke-width="0.9" />
<text x="269.1" y="177.4" font-size="5.9" font-weight="bold" fill="#1a1a1a" stroke="#1a1a1a" stroke-width="0.2" text-anchor="end" font-family='"Liberation Sans", sans-serif' transform="rotate(-45 269.1 177.4)">METTL14</text>
<line x1="281.36" y1="168.4" x2="281.36" y2="170.6" stroke="#4a4a4a" stroke-width="0.9" />
<text x="283.36" y="177.4" font-size="5.9" font-weight="bold" fill="#1a1a1a" stroke="#1a1a1a" stroke-width="0.2" text-anchor="end" font-family='"Liberation Sans", sans-serif' transform="rotate(-45 283.36 177.4)">METTL16</text>
<line x1="295.62" y1="168.4" x2="295.62" y2="170.6" stroke="#4a4a4a" stroke-width="0.9" />
<text x="297.62" y="177.4" font-size="5.9" font-weight="bold" fill="#1a1a1a" stroke="#1a1a1a" stroke-width="0.2" text-anchor="end" font-family='"Liberation Sans", sans-serif' transform="rotate(-45 297.62 177.4)">KIAA1429</text>
<line x1="309.88" y1="168.4" x2="309.88" y2="170.6" stroke="#4a4a4a" stroke-width="0.9" />
<text x="311.88" y="177.4" font-size="5.9" font-weight="bold" fill="#1a1a1a" stroke="#1a1a1a" stroke-width="0.2" text-anchor="end" font-family='"Liberation Sans", sans-serif' transform="rotate(-45 311.88 177.4)">RBM15</text>
<line x1="324.14" y1="168.4" x2="324.14" y2="170.6" stroke="#4a4a4a" stroke-width="0.9" />
<text x="326.14" y="177.4" font-size="5.9" font-weight="bold" fill="#1a1a1a" stroke="#1a1a1a" stroke-width="0.2" text-anchor="end" font-family='"Liberation Sans", sans-serif' transform="rotate(-45 326.14 177.4)">ZC3H13</text>
<line x1="338.4" y1="168.4" x2="338.4" y2="170.6" stroke="#4a4a4a" stroke-width="0.9" />
<text x="340.4" y="177.4" font-size="5.9" font-weight="bold" fill="#1a1a1a" stroke="#1a1a1a" stroke-width="0.2" text-anchor="end" font-family='"Liberation Sans", sans-serif' transform="rotate(-45 340.4 177.4)">WTAP</text>
<line x1="352.66" y1="168.4" x2="352.66" y2="170.6" stroke="#4a4a4a" stroke-width="0.9" />
<text x="354.66" y="177.4" font-size="5.9" font-weight="bold" fill="#1a1a1a" stroke="#1a1a1a" stroke-width="0.2" text-anchor="end" font-family='"Liberation Sans", sans-serif' transform="rotate(-45 354.66 177.4)">FTO</text>
<line x1="366.92" y1="168.4" x2="366.92" y2="170.6" stroke="#4a4a4a" stroke-width="0.9" />
<text x="368.92" y="177.4" font-size="5.9" font-weight="bold" fill="#1a1a1a" stroke="#1a1a1a" stroke-width="0.2" text-anchor="end" font-family='"Liberation Sans", sans-serif' transform="rotate(-45 368.92 177.4)">ALKBH5</text>
<line x1="381.18" y1="168.4" x2="381.18" y2="170.6" stroke="#4a4a4a" stroke-width="0.9" />
<text x="383.18" y="177.4" font-size="5.9" font-weight="bold" fill="#1a1a1a" stroke="#1a1a1a" stroke-width="0.2" text-anchor="end" font-family='"Liberation Sans", sans-serif' transform="rotate(-45 383.18 177.4)">YTHDF1</text>
<line x1="395.44" y1="168.4" x2="395.44" y2="170.6" stroke="#4a4a4a" stroke-width="0.9" />
<text x="397.44" y="177.4" font-size="5.9" font-weight="bold" fill="#1a1a1a" stroke="#1a1a1a" stroke-width="0.2" text-anchor="end" font-family='"Liberation Sans", sans-serif' transform="rotate(-45 397.44 177.4)">YTHDF2</text>
<line x1="409.7" y1="168.4" x2="409.7" y2="170.6" stroke="#4a4a4a" stroke-width="0.9" />
<text x="411.7" y="177.4" font-size="5.9" font-weight="bold" fill="#1a1a1a" stroke="#1a1a1a" stroke-width="0.2" text-anchor="end" font-family='"Liberation Sans", sans-serif' transform="rotate(-45 411.7 177.4)">YTHDF3</text>
<line x1="423.96" y1="168.4" x2="423.96" y2="170.6" stroke="#4a4a4a" stroke-width="0.9" />
<text x="425.96" y="177.4" font-size="5.9" font-weight="bold" fill="#1a1a1a" stroke="#1a1a1a" stroke-width="0.2" text-anchor="end" font-family='"Liberation Sans", sans-serif' transform="rotate(-45 425.96 177.4)">YTHDC1</text>
<line x1="438.22" y1="168.4" x2="438.22" y2="170.6" stroke="#4a4a4a" stroke-width="0.9" />
<text x="440.22" y="177.4" font-size="5.9" font-weight="bold" fill="#1a1a1a" stroke="#1a1a1a" stroke-width="0.2" text-anchor="end" font-family='"Liberation Sans", sans-serif' transform="rotate(-45 440.22 177.4)">YTHDC2</text>
<line x1="452.48" y1="168.4" x2="452.48" y2="170.6" stroke="#4a4a4a" stroke-width="0.9" />
<text x="454.48" y="177.4" font-size="5.9" font-weight="bold" fill="#1a1a1a" stroke="#1a1a1a" stroke-width="0.2" text-anchor="end" font-family='"Liberation Sans", sans-serif' transform="rotate(-45 454.48 177.4)">HNRNPA2B1</text>
<line x1="466.74" y1="168.4" x2="466.74" y2="170.6" stroke="#4a4a4a" stroke-width="0.9" />
<text x="468.74" y="177.4" font-size="5.9" font-weight="bold" fill="#1a1a1a" stroke="#1a1a1a" stroke-width="0.2" text-anchor="end" font-family='"Liberation Sans", sans-serif' transform="rotate(-45 468.74 177.4)">HNRNPC</text>
<line x1="481" y1="168.4" x2="481" y2="170.6" stroke="#4a4a4a" stroke-width="0.9" />
<text x="483" y="177.4" font-size="5.9" font-weight="bold" fill="#1a1a1a" stroke="#1a1a1a" stroke-width="0.2" text-anchor="end" font-family='"Liberation Sans", sans-serif' transform="rotate(-45 483 177.4)">IGF2BP2</text>
<line x1="495.26" y1="168.4" x2="495.26" y2="170.6" stroke="#4a4a4a" stroke-width="0.9" />
<text x="497.26" y="177.4" font-size="5.9" font-weight="bold" fill="#1a1a1a" stroke="#1a1a1a" stroke-width="0.2" text-anchor="end" font-family='"Liberation Sans", sans-serif' transform="rotate(-45 497.26 177.4)">IGF2BP3</text>
<line x1="509.52" y1="168.4" x2="509.52" y2="170.6" stroke="#4a4a4a" stroke-width="0.9" />
<text x="511.52" y="177.4" font-size="5.9" font-weight="bold" fill="#1a1a1a" stroke="#1a1a1a" stroke-width="0.2" text-anchor="end" font-family='"Liberation Sans", sans-serif' transform="rotate(-45 511.52 177.4)">CBLL1</text>
<line x1="523.78" y1="168.4" x2="523.78" y2="170.6" stroke="#4a4a4a" stroke-width="0.9" />
<text x="525.78" y="177.4" font-size="5.9" font-weight="bold" fill="#1a1a1a" stroke="#1a1a1a" stroke-width="0.2" text-anchor="end" font-family='"Liberation Sans", sans-serif' transform="rotate(-45 525.78 177.4)">FMR1</text>
<line x1="538.04" y1="168.4" x2="538.04" y2="170.6" stroke="#4a4a4a" stroke-width="0.9" />
<text x="540.04" y="177.4" font-size="5.9" font-weight="bold" fill="#1a1a1a" stroke="#1a1a1a" stroke-width="0.2" text-anchor="end" font-family='"Liberation Sans", sans-serif' transform="rotate(-45 540.04 177.4)">LRPPRC</text>
<text x="247.8" y="104" font-size="10.05" font-weight="bold" fill="#1a1a1a" text-anchor="middle" font-family='"Liberation Sans", sans-serif' transform="rotate(-90 247.8 104)">Relative Expression</text>
<line x1="264.5" y1="116.9" x2="264.5" y2="117.7" stroke="#dca0b8" stroke-width="0.6" />
<line x1="264.5" y1="124.5" x2="264.5" y2="127.6" stroke="#dca0b8" stroke-width="0.6" />
<rect x="262.6" y="117.7" width="3.8" height="6.8" fill="#c96b8f" stroke="none" stroke-width="0" />
<rect x="267.95" y="119.9" width="3.8" height="17.6" fill="#e3bd75" stroke="none" stroke-width="0" />
<line x1="278.76" y1="106.5" x2="278.76" y2="107.8" stroke="#dca0b8" stroke-width="0.6" />
<line x1="278.76" y1="113.8" x2="278.76" y2="116.9" stroke="#dca0b8" stroke-width="0.6" />
<rect x="276.86" y="107.8" width="3.8" height="6" fill="#c96b8f" stroke="none" stroke-width="0" />
<line x1="284.11" y1="114.4" x2="284.11" y2="116.3" stroke="#eed3a3" stroke-width="0.6" />
<line x1="284.11" y1="130" x2="284.11" y2="134.1" stroke="#eed3a3" stroke-width="0.6" />
<rect x="282.21" y="116.3" width="3.8" height="13.7" fill="#e3bd75" stroke="none" stroke-width="0" />
<text x="281.86" y="107.4" font-size="7.2" font-weight="bold" text-anchor="middle" fill="#1a1a1a" font-family='"Liberation Sans", sans-serif' >**</text>
<line x1="293.02" y1="109" x2="293.02" y2="111.6" stroke="#dca0b8" stroke-width="0.6" />
<rect x="291.12" y="103.7" width="3.8" height="5.3" fill="#c96b8f" stroke="none" stroke-width="0" />
<rect x="296.47" y="108.1" width="3.8" height="16.7" fill="#e3bd75" stroke="none" stroke-width="0" />
<text x="296.12" y="104.6" font-size="7.2" font-weight="bold" text-anchor="middle" fill="#1a1a1a" font-family='"Liberation Sans", sans-serif' >*</text>
<line x1="307.28" y1="104.1" x2="307.28" y2="105.9" stroke="#dca0b8" stroke-width="0.6" />
<line x1="307.28" y1="114.7" x2="307.28" y2="119.9" stroke="#dca0b8" stroke-width="0.6" />
<rect x="305.38" y="105.9" width="3.8" height="8.8" fill="#c96b8f" stroke="none" stroke-width="0" />
<line x1="312.63" y1="108.1" x2="312.63" y2="110.6" stroke="#eed3a3" stroke-width="0.6" />
<rect x="310.73" y="110.6" width="3.8" height="12.1" fill="#e3bd75" stroke="none" stroke-width="0" />
<text x="310.38" y="105.1" font-size="7.2" font-weight="bold" text-anchor="middle" fill="#1a1a1a" font-family='"Liberation Sans", sans-serif' >*</text>
<line x1="321.54" y1="118.6" x2="321.54" y2="120" stroke="#dca0b8" stroke-width="0.6" />
<line x1="321.54" y1="125.6" x2="321.54" y2="128.2" stroke="#dca0b8" stroke-width="0.6" />
<rect x="319.64" y="120" width="3.8" height="5.6" fill="#c96b8f" stroke="none" stroke-width="0" />
<line x1="326.89" y1="130.7" x2="326.89" y2="134.3" stroke="#eed3a3" stroke-width="0.6" />
<rect x="324.99" y="121.5" width="3.8" height="9.2" fill="#e3bd75" stroke="none" stroke-width="0" />
<rect x="333.9" y="112.2" width="3.8" height="5.4" fill="#c96b8f" stroke="none" stroke-width="0" />
<rect x="339.25" y="118" width="3.8" height="13.7" fill="#e3bd75" stroke="none" stroke-width="0" />
<text x="338.9" y="112.9" font-size="7.2" font-weight="bold" text-anchor="middle" fill="#1a1a1a" font-family='"Liberation Sans", sans-serif' >**</text>
<rect x="348.16" y="117.6" width="3.8" height="7.2" fill="#c96b8f" stroke="none" stroke-width="0" />
<line x1="355.41" y1="117.1" x2="355.41" y2="120" stroke="#eed3a3" stroke-width="0.6" />
<rect x="353.51" y="120" width="3.8" height="5.9" fill="#e3bd75" stroke="none" stroke-width="0" />
<line x1="364.32" y1="130.7" x2="364.32" y2="133.1" stroke="#dca0b8" stroke-width="0.6" />
<rect x="362.42" y="122.4" width="3.8" height="8.3" fill="#c96b8f" stroke="none" stroke-width="0" />
<line x1="369.67" y1="147.7" x2="369.67" y2="150" stroke="#eed3a3" stroke-width="0.6" />
<rect x="367.77" y="132.1" width="3.8" height="15.6" fill="#e3bd75" stroke="none" stroke-width="0" />
<text x="367.42" y="123.8" font-size="7.2" font-weight="bold" text-anchor="middle" fill="#1a1a1a" font-family='"Liberation Sans", sans-serif' >**</text>
<line x1="378.58" y1="134.6" x2="378.58" y2="137.9" stroke="#dca0b8" stroke-width="0.6" />
<line x1="378.58" y1="145.9" x2="378.58" y2="147.4" stroke="#dca0b8" stroke-width="0.6" />
<rect x="376.68" y="137.9" width="3.8" height="8" fill="#c96b8f" stroke="none" stroke-width="0" />
<rect x="382.03" y="144.5" width="3.8" height="8.4" fill="#e3bd75" stroke="none" stroke-width="0" />
<line x1="392.84" y1="120" x2="392.84" y2="121.9" stroke="#dca0b8" stroke-width="0.6" />
<rect x="390.94" y="111.7" width="3.8" height="8.3" fill="#c96b8f" stroke="none" stroke-width="0" />
<line x1="398.19" y1="113.6" x2="398.19" y2="117.1" stroke="#eed3a3" stroke-width="0.6" />
<line x1="398.19" y1="128.8" x2="398.19" y2="131.4" stroke="#eed3a3" stroke-width="0.6" />
<rect x="396.29" y="117.1" width="3.8" height="11.7" fill="#e3bd75" stroke="none" stroke-width="0" />
<line x1="407.1" y1="127.3" x2="407.1" y2="129.2" stroke="#dca0b8" stroke-width="0.6" />
<rect x="405.2" y="121.5" width="3.8" height="5.8" fill="#c96b8f" stroke="none" stroke-width="0" />
<line x1="412.45" y1="146.2" x2="412.45" y2="153.2" stroke="#eed3a3" stroke-width="0.6" />
<rect x="410.55" y="123" width="3.8" height="23.2" fill="#e3bd75" stroke="none" stroke-width="0" />
<line x1="421.36" y1="112.2" x2="421.36" y2="115.4" stroke="#dca0b8" stroke-width="0.6" />
<rect x="419.46" y="104.5" width="3.8" height="7.7" fill="#c96b8f" stroke="none" stroke-width="0" />
<line x1="426.71" y1="123.4" x2="426.71" y2="127.8" stroke="#eed3a3" stroke-width="0.6" />
<rect x="424.81" y="107.4" width="3.8" height="16" fill="#e3bd75" stroke="none" stroke-width="0" />
<rect x="433.72" y="111" width="3.8" height="7" fill="#c96b8f" stroke="none" stroke-width="0" />
<line x1="440.97" y1="126.7" x2="440.97" y2="128.8" stroke="#eed3a3" stroke-width="0.6" />
<rect x="439.07" y="115.4" width="3.8" height="11.3" fill="#e3bd75" stroke="none" stroke-width="0" />
<rect x="447.98" y="112.5" width="3.8" height="7" fill="#c96b8f" stroke="none" stroke-width="0" />
<line x1="455.23" y1="131.1" x2="455.23" y2="132.6" stroke="#eed3a3" stroke-width="0.6" />
<rect x="453.33" y="115.4" width="3.8" height="15.7" fill="#e3bd75" stroke="none" stroke-width="0" />
<rect x="462.24" y="66.1" width="3.8" height="5.1" fill="#c96b8f" stroke="none" stroke-width="0" />
<rect x="467.59" y="73.8" width="3.8" height="9" fill="#e3bd75" stroke="none" stroke-width="0" />
<text x="467.24" y="65.9" font-size="7.2" font-weight="bold" text-anchor="middle" fill="#1a1a1a" font-family='"Liberation Sans", sans-serif' >*</text>
<line x1="478.4" y1="138.4" x2="478.4" y2="143" stroke="#dca0b8" stroke-width="0.6" />
<rect x="476.5" y="124.8" width="3.8" height="13.6" fill="#c96b8f" stroke="none" stroke-width="0" />
<rect x="481.85" y="138" width="3.8" height="13.8" fill="#e3bd75" stroke="none" stroke-width="0" />
<text x="481.5" y="125.6" font-size="7.2" font-weight="bold" text-anchor="middle" fill="#1a1a1a" font-family='"Liberation Sans", sans-serif' >*</text>
<line x1="492.66" y1="122" x2="492.66" y2="123.5" stroke="#dca0b8" stroke-width="0.6" />
<rect x="490.76" y="112.6" width="3.8" height="9.4" fill="#c96b8f" stroke="none" stroke-width="0" />
<line x1="498.01" y1="129" x2="498.01" y2="131.1" stroke="#eed3a3" stroke-width="0.6" />
<rect x="496.11" y="122.4" width="3.8" height="6.6" fill="#e3bd75" stroke="none" stroke-width="0" />
<text x="495.76" y="113.4" font-size="7.2" font-weight="bold" text-anchor="middle" fill="#1a1a1a" font-family='"Liberation Sans", sans-serif' >*</text>
<line x1="506.92" y1="98.4" x2="506.92" y2="100.1" stroke="#dca0b8" stroke-width="0.6" />
<line x1="506.92" y1="117.6" x2="506.92" y2="126.3" stroke="#dca0b8" stroke-width="0.6" />
<rect x="505.02" y="100.1" width="3.8" height="17.5" fill="#c96b8f" stroke="none" stroke-width="0" />
<line x1="512.27" y1="109.3" x2="512.27" y2="111.5" stroke="#eed3a3" stroke-width="0.6" />
<line x1="512.27" y1="128.5" x2="512.27" y2="131.1" stroke="#eed3a3" stroke-width="0.6" />
<rect x="510.37" y="111.5" width="3.8" height="17" fill="#e3bd75" stroke="none" stroke-width="0" />
<line x1="521.18" y1="136.6" x2="521.18" y2="141" stroke="#dca0b8" stroke-width="0.6" />
<rect x="519.28" y="127.2" width="3.8" height="9.4" fill="#c96b8f" stroke="none" stroke-width="0" />
<line x1="526.53" y1="136" x2="526.53" y2="139.4" stroke="#eed3a3" stroke-width="0.6" />
<line x1="526.53" y1="148.2" x2="526.53" y2="149.7" stroke="#eed3a3" stroke-width="0.6" />
<rect x="524.63" y="139.4" width="3.8" height="8.8" fill="#e3bd75" stroke="none" stroke-width="0" />
<text x="524.28" y="126.9" font-size="7.2" font-weight="bold" text-anchor="middle" fill="#1a1a1a" font-family='"Liberation Sans", sans-serif' >***</text>
<rect x="533.54" y="87" width="3.8" height="4.8" fill="#c96b8f" stroke="none" stroke-width="0" />
<line x1="540.79" y1="114.8" x2="540.79" y2="117.6" stroke="#eed3a3" stroke-width="0.6" />
<rect x="538.89" y="101" width="3.8" height="13.8" fill="#e3bd75" stroke="none" stroke-width="0" />
<text x="538.54" y="86.8" font-size="7.2" font-weight="bold" text-anchor="middle" fill="#1a1a1a" font-family='"Liberation Sans", sans-serif' >**</text>
<g>
<rect x="42.8" y="246.7" width="152.8" height="152.8" fill="#ffffff" stroke="none" stroke-width="0" />
</g>
<g stroke="#d9d9d9" stroke-width="0.5">
<line x1="42.8" y1="246.7" x2="42.8" y2="399.5"/>
<line x1="42.8" y1="246.7" x2="195.6" y2="246.7"/>
<line x1="50.44" y1="246.7" x2="50.44" y2="399.5"/>
<line x1="42.8" y1="254.34" x2="195.6" y2="254.34"/>
<line x1="58.08" y1="246.7" x2="58.08" y2="399.5"/>
<line x1="42.8" y1="261.98" x2="195.6" y2="261.98"/>
<line x1="65.72" y1="246.7" x2="65.72" y2="399.5"/>
<line x1="42.8" y1="269.62" x2="195.6" y2="269.62"/>
<line x1="73.36" y1="246.7" x2="73.36" y2="399.5"/>
<line x1="42.8" y1="277.26" x2="195.6" y2="277.26"/>
<line x1="81" y1="246.7" x2="81" y2="399.5"/>
<line x1="42.8" y1="284.9" x2="195.6" y2="284.9"/>
<line x1="88.64" y1="246.7" x2="88.64" y2="399.5"/>
<line x1="42.8" y1="292.54" x2="195.6" y2="292.54"/>
<line x1="96.28" y1="246.7" x2="96.28" y2="399.5"/>
<line x1="42.8" y1="300.18" x2="195.6" y2="300.18"/>
<line x1="103.92" y1="246.7" x2="103.92" y2="399.5"/>
<line x1="42.8" y1="307.82" x2="195.6" y2="307.82"/>
<line x1="111.56" y1="246.7" x2="111.56" y2="399.5"/>
<line x1="42.8" y1="315.46" x2="195.6" y2="315.46"/>
<line x1="119.2" y1="246.7" x2="119.2" y2="399.5"/>
<line x1="42.8" y1="323.1" x2="195.6" y2="323.1"/>
<line x1="126.84" y1="246.7" x2="126.84" y2="399.5"/>
<line x1="42.8" y1="330.74" x2="195.6" y2="330.74"/>
<line x1="134.48" y1="246.7" x2="134.48" y2="399.5"/>
<line x1="42.8" y1="338.38" x2="195.6" y2="338.38"/>
<line x1="142.12" y1="246.7" x2="142.12" y2="399.5"/>
<line x1="42.8" y1="346.02" x2="195.6" y2="346.02"/>
<line x1="149.76" y1="246.7" x2="149.76" y2="399.5"/>
<line x1="42.8" y1="353.66" x2="195.6" y2="353.66"/>
<line x1="157.4" y1="246.7" x2="157.4" y2="399.5"/>
<line x1="42.8" y1="361.3" x2="195.6" y2="361.3"/>
<line x1="165.04" y1="246.7" x2="165.04" y2="399.5"/>
<line x1="42.8" y1="368.94" x2="195.6" y2="368.94"/>
<line x1="172.68" y1="246.7" x2="172.68" y2="399.5"/>
<line x1="42.8" y1="376.58" x2="195.6" y2="376.58"/>
<line x1="180.32" y1="246.7" x2="180.32" y2="399.5"/>
<line x1="42.8" y1="384.22" x2="195.6" y2="384.22"/>
<line x1="187.96" y1="246.7" x2="187.96" y2="399.5"/>
<line x1="42.8" y1="391.86" x2="195.6" y2="391.86"/>
<line x1="195.6" y1="246.7" x2="195.6" y2="399.5"/>
<line x1="42.8" y1="399.5" x2="195.6" y2="399.5"/>
</g>
<line x1="43.06" y1="254.08" x2="50.18" y2="246.96" stroke="#6a3d9a" stroke-width="0.45" />
<ellipse cx="54.26" cy="250.52" rx="3.84" ry="3.4" fill="#e31a1c" transform="rotate(-45 54.26 250.52)"/>
<ellipse cx="61.9" cy="250.52" rx="3.44" ry="3.81" fill="#fb9a99" transform="rotate(-45 61.9 250.52)"/>
<ellipse cx="69.54" cy="250.52" rx="3.84" ry="3.4" fill="#e31a1c" transform="rotate(-45 69.54 250.52)"/>
<ellipse cx="77.18" cy="250.52" rx="3.84" ry="3.4" fill="#e31a1c" transform="rotate(-45 77.18 250.52)"/>
<ellipse cx="84.82" cy="250.52" rx="3.44" ry="3.81" fill="#fb9a99" transform="rotate(-45 84.82 250.52)"/>
<ellipse cx="92.46" cy="250.52" rx="3.44" ry="3.81" fill="#fb9a99" transform="rotate(-45 92.46 250.52)"/>
<ellipse cx="100.1" cy="250.52" rx="3.44" ry="3.81" fill="#fb9a99" transform="rotate(-45 100.1 250.52)"/>
<ellipse cx="107.74" cy="250.52" rx="3.44" ry="3.81" fill="#fb9a99" transform="rotate(-45 107.74 250.52)"/>
<ellipse cx="115.38" cy="250.52" rx="3.84" ry="3.4" fill="#e31a1c" transform="rotate(-45 115.38 250.52)"/>
<ellipse cx="123.02" cy="250.52" rx="3.84" ry="3.4" fill="#e31a1c" transform="rotate(-45 123.02 250.52)"/>
<ellipse cx="130.66" cy="250.52" rx="3.84" ry="3.4" fill="#e31a1c" transform="rotate(-45 130.66 250.52)"/>
<ellipse cx="138.3" cy="250.52" rx="3.44" ry="3.81" fill="#fb9a99" transform="rotate(-45 138.3 250.52)"/>
<ellipse cx="145.94" cy="250.52" rx="3.04" ry="4.14" fill="#33a02c" transform="rotate(-45 145.94 250.52)"/>
<ellipse cx="153.58" cy="250.52" rx="3.44" ry="3.81" fill="#fb9a99" transform="rotate(-45 153.58 250.52)"/>
<ellipse cx="161.22" cy="250.52" rx="3.44" ry="3.81" fill="#fb9a99" transform="rotate(-45 161.22 250.52)"/>
<ellipse cx="168.86" cy="250.52" rx="3.04" ry="4.14" fill="#33a02c" transform="rotate(-45 168.86 250.52)"/>
<ellipse cx="176.5" cy="250.52" rx="3.44" ry="3.81" fill="#fb9a99" transform="rotate(-45 176.5 250.52)"/>
<ellipse cx="184.14" cy="250.52" rx="3.04" ry="4.14" fill="#33a02c" transform="rotate(-45 184.14 250.52)"/>
<ellipse cx="191.78" cy="250.52" rx="3.44" ry="3.81" fill="#fb9a99" transform="rotate(-45 191.78 250.52)"/>
<ellipse cx="46.62" cy="258.16" rx="3.84" ry="3.4" fill="#e31a1c" transform="rotate(-45 46.62 258.16)"/>
<line x1="50.7" y1="261.72" x2="57.82" y2="254.6" stroke="#6a3d9a" stroke-width="0.45" />
<ellipse cx="61.9" cy="258.16" rx="4.95" ry="1.36" fill="#5f2a9e" transform="rotate(-45 61.9 258.16)"/>
<ellipse cx="69.54" cy="258.16" rx="4.95" ry="1.36" fill="#5f2a9e" transform="rotate(-45 69.54 258.16)"/>
<ellipse cx="77.18" cy="258.16" rx="4.69" ry="2.08" fill="#cab2d6" transform="rotate(-45 77.18 258.16)"/>
<ellipse cx="84.82" cy="258.16" rx="4.69" ry="2.08" fill="#cab2d6" transform="rotate(-45 84.82 258.16)"/>
<ellipse cx="92.46" cy="258.16" rx="4.69" ry="2.08" fill="#cab2d6" transform="rotate(-45 92.46 258.16)"/>
<ellipse cx="100.1" cy="258.16" rx="4.69" ry="2.08" fill="#cab2d6" transform="rotate(-45 100.1 258.16)"/>
<ellipse cx="107.74" cy="258.16" rx="4.69" ry="2.08" fill="#cab2d6" transform="rotate(-45 107.74 258.16)"/>
<ellipse cx="115.38" cy="258.16" rx="4.69" ry="2.08" fill="#cab2d6" transform="rotate(-45 115.38 258.16)"/>
<ellipse cx="123.02" cy="258.16" rx="4.69" ry="2.08" fill="#cab2d6" transform="rotate(-45 123.02 258.16)"/>
<ellipse cx="130.66" cy="258.16" rx="4.69" ry="2.08" fill="#cab2d6" transform="rotate(-45 130.66 258.16)"/>
<ellipse cx="138.3" cy="258.16" rx="4.69" ry="2.08" fill="#cab2d6" transform="rotate(-45 138.3 258.16)"/>
<ellipse cx="145.94" cy="258.16" rx="4.69" ry="2.08" fill="#cab2d6" transform="rotate(-45 145.94 258.16)"/>
<ellipse cx="153.58" cy="258.16" rx="4.95" ry="1.36" fill="#5f2a9e" transform="rotate(-45 153.58 258.16)"/>
<ellipse cx="161.22" cy="258.16" rx="4.95" ry="1.36" fill="#5f2a9e" transform="rotate(-45 161.22 258.16)"/>
<ellipse cx="168.86" cy="258.16" rx="4.95" ry="1.36" fill="#5f2a9e" transform="rotate(-45 168.86 258.16)"/>
<ellipse cx="176.5" cy="258.16" rx="4.69" ry="2.08" fill="#cab2d6" transform="rotate(-45 176.5 258.16)"/>
<ellipse cx="184.14" cy="258.16" rx="4.69" ry="2.08" fill="#cab2d6" transform="rotate(-45 184.14 258.16)"/>
<ellipse cx="191.78" cy="258.16" rx="4.69" ry="2.08" fill="#cab2d6" transform="rotate(-45 191.78 258.16)"/>
<ellipse cx="46.62" cy="265.8" rx="3.44" ry="3.81" fill="#fb9a99" transform="rotate(-45 46.62 265.8)"/>
<ellipse cx="54.26" cy="265.8" rx="4.95" ry="1.36" fill="#5f2a9e" transform="rotate(-45 54.26 265.8)"/>
<line x1="58.34" y1="269.36" x2="65.46" y2="262.24" stroke="#6a3d9a" stroke-width="0.45" />
<ellipse cx="69.54" cy="265.8" rx="4.95" ry="1.36" fill="#5f2a9e" transform="rotate(-45 69.54 265.8)"/>
<ellipse cx="77.18" cy="265.8" rx="4.95" ry="1.36" fill="#5f2a9e" transform="rotate(-45 77.18 265.8)"/>
<ellipse cx="84.82" cy="265.8" rx="4.69" ry="2.08" fill="#cab2d6" transform="rotate(-45 84.82 265.8)"/>
<ellipse cx="92.46" cy="265.8" rx="4.69" ry="2.08" fill="#cab2d6" transform="rotate(-45 92.46 265.8)"/>
<ellipse cx="100.1" cy="265.8" rx="4.69" ry="2.08" fill="#cab2d6" transform="rotate(-45 100.1 265.8)"/>
<ellipse cx="107.74" cy="265.8" rx="4.95" ry="1.36" fill="#5f2a9e" transform="rotate(-45 107.74 265.8)"/>
<ellipse cx="115.38" cy="265.8" rx="4.95" ry="1.36" fill="#5f2a9e" transform="rotate(-45 115.38 265.8)"/>
<ellipse cx="123.02" cy="265.8" rx="4.95" ry="1.36" fill="#5f2a9e" transform="rotate(-45 123.02 265.8)"/>
<ellipse cx="130.66" cy="265.8" rx="4.95" ry="1.36" fill="#5f2a9e" transform="rotate(-45 130.66 265.8)"/>
<ellipse cx="138.3" cy="265.8" rx="4.69" ry="2.08" fill="#cab2d6" transform="rotate(-45 138.3 265.8)"/>
<ellipse cx="145.94" cy="265.8" rx="4.95" ry="1.36" fill="#5f2a9e" transform="rotate(-45 145.94 265.8)"/>
<ellipse cx="153.58" cy="265.8" rx="4.95" ry="1.36" fill="#5f2a9e" transform="rotate(-45 153.58 265.8)"/>
<ellipse cx="161.22" cy="265.8" rx="4.95" ry="1.36" fill="#5f2a9e" transform="rotate(-45 161.22 265.8)"/>
<ellipse cx="168.86" cy="265.8" rx="4.95" ry="1.36" fill="#5f2a9e" transform="rotate(-45 168.86 265.8)"/>
<ellipse cx="176.5" cy="265.8" rx="4.95" ry="1.36" fill="#5f2a9e" transform="rotate(-45 176.5 265.8)"/>
<ellipse cx="184.14" cy="265.8" rx="4.95" ry="1.36" fill="#5f2a9e" transform="rotate(-45 184.14 265.8)"/>
<ellipse cx="191.78" cy="265.8" rx="4.95" ry="1.36" fill="#5f2a9e" transform="rotate(-45 191.78 265.8)"/>
<ellipse cx="46.62" cy="273.44" rx="3.84" ry="3.4" fill="#e31a1c" transform="rotate(-45 46.62 273.44)"/>
<ellipse cx="54.26" cy="273.44" rx="4.95" ry="1.36" fill="#5f2a9e" transform="rotate(-45 54.26 273.44)"/>
<ellipse cx="61.9" cy="273.44" rx="4.95" ry="1.36" fill="#5f2a9e" transform="rotate(-45 61.9 273.44)"/>
<line x1="65.98" y1="277" x2="73.1" y2="269.88" stroke="#6a3d9a" stroke-width="0.45" />
<ellipse cx="77.18" cy="273.44" rx="4.95" ry="1.36" fill="#5f2a9e" transform="rotate(-45 77.18 273.44)"/>
<ellipse cx="84.82" cy="273.44" rx="4.95" ry="1.36" fill="#5f2a9e" transform="rotate(-45 84.82 273.44)"/>
<ellipse cx="92.46" cy="273.44" rx="4.95" ry="1.36" fill="#5f2a9e" transform="rotate(-45 92.46 273.44)"/>
<ellipse cx="100.1" cy="273.44" rx="4.95" ry="1.36" fill="#5f2a9e" transform="rotate(-45 100.1 273.44)"/>
<ellipse cx="107.74" cy="273.44" rx="4.69" ry="2.08" fill="#cab2d6" transform="rotate(-45 107.74 273.44)"/>
<ellipse cx="115.38" cy="273.44" rx="4.95" ry="1.36" fill="#5f2a9e" transform="rotate(-45 115.38 273.44)"/>
<ellipse cx="123.02" cy="273.44" rx="4.95" ry="1.36" fill="#5f2a9e" transform="rotate(-45 123.02 273.44)"/>
<ellipse cx="130.66" cy="273.44" rx="4.69" ry="2.08" fill="#cab2d6" transform="rotate(-45 130.66 273.44)"/>
<ellipse cx="138.3" cy="273.44" rx="4.69" ry="2.08" fill="#cab2d6" transform="rotate(-45 138.3 273.44)"/>
<ellipse cx="145.94" cy="273.44" rx="4.69" ry="2.08" fill="#cab2d6" transform="rotate(-45 145.94 273.44)"/>
<ellipse cx="153.58" cy="273.44" rx="4.95" ry="1.36" fill="#5f2a9e" transform="rotate(-45 153.58 273.44)"/>
<ellipse cx="161.22" cy="273.44" rx="4.95" ry="1.36" fill="#5f2a9e" transform="rotate(-45 161.22 273.44)"/>
<ellipse cx="168.86" cy="273.44" rx="4.95" ry="1.36" fill="#5f2a9e" transform="rotate(-45 168.86 273.44)"/>
<ellipse cx="176.5" cy="273.44" rx="4.95" ry="1.36" fill="#5f2a9e" transform="rotate(-45 176.5 273.44)"/>
<ellipse cx="184.14" cy="273.44" rx="4.95" ry="1.36" fill="#5f2a9e" transform="rotate(-45 184.14 273.44)"/>
<ellipse cx="191.78" cy="273.44" rx="4.95" ry="1.36" fill="#5f2a9e" transform="rotate(-45 191.78 273.44)"/>
<ellipse cx="46.62" cy="281.08" rx="3.84" ry="3.4" fill="#e31a1c" transform="rotate(-45 46.62 281.08)"/>
<ellipse cx="54.26" cy="281.08" rx="4.69" ry="2.08" fill="#cab2d6" transform="rotate(-45 54.26 281.08)"/>
<ellipse cx="61.9" cy="281.08" rx="4.95" ry="1.36" fill="#5f2a9e" transform="rotate(-45 61.9 281.08)"/>
<ellipse cx="69.54" cy="281.08" rx="4.95" ry="1.36" fill="#5f2a9e" transform="rotate(-45 69.54 281.08)"/>
<line x1="73.62" y1="284.64" x2="80.74" y2="277.52" stroke="#6a3d9a" stroke-width="0.45" />
<ellipse cx="84.82" cy="281.08" rx="4.95" ry="1.36" fill="#5f2a9e" transform="rotate(-45 84.82 281.08)"/>
<ellipse cx="92.46" cy="281.08" rx="4.95" ry="1.36" fill="#5f2a9e" transform="rotate(-45 92.46 281.08)"/>
<ellipse cx="100.1" cy="281.08" rx="4.95" ry="1.36" fill="#5f2a9e" transform="rotate(-45 100.1 281.08)"/>
<ellipse cx="107.74" cy="281.08" rx="4.69" ry="2.08" fill="#cab2d6" transform="rotate(-45 107.74 281.08)"/>
<ellipse cx="115.38" cy="281.08" rx="4.95" ry="1.36" fill="#5f2a9e" transform="rotate(-45 115.38 281.08)"/>
<ellipse cx="123.02" cy="281.08" rx="4.95" ry="1.36" fill="#5f2a9e" transform="rotate(-45 123.02 281.08)"/>
<ellipse cx="130.66" cy="281.08" rx="4.95" ry="1.36" fill="#5f2a9e" transform="rotate(-45 130.66 281.08)"/>
<ellipse cx="138.3" cy="281.08" rx="4.95" ry="1.36" fill="#5f2a9e" transform="rotate(-45 138.3 281.08)"/>
<ellipse cx="145.94" cy="281.08" rx="4.44" ry="2.57" fill="#ff7f00" transform="rotate(-45 145.94 281.08)"/>
<ellipse cx="153.58" cy="281.08" rx="4.69" ry="2.08" fill="#cab2d6" transform="rotate(-45 153.58 281.08)"/>
<ellipse cx="161.22" cy="281.08" rx="4.95" ry="1.36" fill="#5f2a9e" transform="rotate(-45 161.22 281.08)"/>
<ellipse cx="168.86" cy="281.08" rx="4.95" ry="1.36" fill="#5f2a9e" transform="rotate(-45 168.86 281.08)"/>
<ellipse cx="176.5" cy="281.08" rx="4.95" ry="1.36" fill="#5f2a9e" transform="rotate(-45 176.5 281.08)"/>
<ellipse cx="184.14" cy="281.08" rx="4.69" ry="2.08" fill="#cab2d6" transform="rotate(-45 184.14 281.08)"/>
<ellipse cx="191.78" cy="281.08" rx="4.69" ry="2.08" fill="#cab2d6" transform="rotate(-45 191.78 281.08)"/>
<ellipse cx="46.62" cy="288.72" rx="3.44" ry="3.81" fill="#fb9a99" transform="rotate(-45 46.62 288.72)"/>
<ellipse cx="54.26" cy="288.72" rx="4.69" ry="2.08" fill="#cab2d6" transform="rotate(-45 54.26 288.72)"/>
<ellipse cx="61.9" cy="288.72" rx="4.69" ry="2.08" fill="#cab2d6" transform="rotate(-45 61.9 288.72)"/>
<ellipse cx="69.54" cy="288.72" rx="4.95" ry="1.36" fill="#5f2a9e" transform="rotate(-45 69.54 288.72)"/>
<ellipse cx="77.18" cy="288.72" rx="4.95" ry="1.36" fill="#5f2a9e" transform="rotate(-45 77.18 288.72)"/>
<line x1="81.26" y1="292.28" x2="88.38" y2="285.16" stroke="#6a3d9a" stroke-width="0.45" />
<ellipse cx="92.46" cy="288.72" rx="4.95" ry="1.36" fill="#5f2a9e" transform="rotate(-45 92.46 288.72)"/>
<ellipse cx="100.1" cy="288.72" rx="4.95" ry="1.36" fill="#5f2a9e" transform="rotate(-45 100.1 288.72)"/>
<ellipse cx="107.74" cy="288.72" rx="4.95" ry="1.36" fill="#5f2a9e" transform="rotate(-45 107.74 288.72)"/>
<ellipse cx="115.38" cy="288.72" rx="4.69" ry="2.08" fill="#cab2d6" transform="rotate(-45 115.38 288.72)"/>
<ellipse cx="123.02" cy="288.72" rx="4.69" ry="2.08" fill="#cab2d6" transform="rotate(-45 123.02 288.72)"/>
<ellipse cx="130.66" cy="288.72" rx="4.69" ry="2.08" fill="#cab2d6" transform="rotate(-45 130.66 288.72)"/>
<ellipse cx="138.3" cy="288.72" rx="4.69" ry="2.08" fill="#cab2d6" transform="rotate(-45 138.3 288.72)"/>
<ellipse cx="145.94" cy="288.72" rx="4.69" ry="2.08" fill="#cab2d6" transform="rotate(-45 145.94 288.72)"/>
<ellipse cx="153.58" cy="288.72" rx="4.95" ry="1.36" fill="#5f2a9e" transform="rotate(-45 153.58 288.72)"/>
<ellipse cx="161.22" cy="288.72" rx="4.95" ry="1.36" fill="#5f2a9e" transform="rotate(-45 161.22 288.72)"/>
<ellipse cx="168.86" cy="288.72" rx="4.95" ry="1.36" fill="#5f2a9e" transform="rotate(-45 168.86 288.72)"/>
<ellipse cx="176.5" cy="288.72" rx="4.95" ry="1.36" fill="#5f2a9e" transform="rotate(-45 176.5 288.72)"/>
<ellipse cx="184.14" cy="288.72" rx="4.95" ry="1.36" fill="#5f2a9e" transform="rotate(-45 184.14 288.72)"/>
<ellipse cx="191.78" cy="288.72" rx="4.69" ry="2.08" fill="#cab2d6" transform="rotate(-45 191.78 288.72)"/>
<ellipse cx="46.62" cy="296.36" rx="3.44" ry="3.81" fill="#fb9a99" transform="rotate(-45 46.62 296.36)"/>
<ellipse cx="54.26" cy="296.36" rx="4.69" ry="2.08" fill="#cab2d6" transform="rotate(-45 54.26 296.36)"/>
<ellipse cx="61.9" cy="296.36" rx="4.69" ry="2.08" fill="#cab2d6" transform="rotate(-45 61.9 296.36)"/>
<ellipse cx="69.54" cy="296.36" rx="4.95" ry="1.36" fill="#5f2a9e" transform="rotate(-45 69.54 296.36)"/>
<ellipse cx="77.18" cy="296.36" rx="4.95" ry="1.36" fill="#5f2a9e" transform="rotate(-45 77.18 296.36)"/>
<ellipse cx="84.82" cy="296.36" rx="4.95" ry="1.36" fill="#5f2a9e" transform="rotate(-45 84.82 296.36)"/>
<line x1="88.9" y1="299.92" x2="96.02" y2="292.8" stroke="#6a3d9a" stroke-width="0.45" />
<ellipse cx="100.1" cy="296.36" rx="4.95" ry="1.36" fill="#5f2a9e" transform="rotate(-45 100.1 296.36)"/>
<ellipse cx="107.74" cy="296.36" rx="4.69" ry="2.08" fill="#cab2d6" transform="rotate(-45 107.74 296.36)"/>
<ellipse cx="115.38" cy="296.36" rx="4.69" ry="2.08" fill="#cab2d6" transform="rotate(-45 115.38 296.36)"/>
<ellipse cx="123.02" cy="296.36" rx="4.69" ry="2.08" fill="#cab2d6" transform="rotate(-45 123.02 296.36)"/>
<ellipse cx="130.66" cy="296.36" rx="4.69" ry="2.08" fill="#cab2d6" transform="rotate(-45 130.66 296.36)"/>
<ellipse cx="138.3" cy="296.36" rx="4.69" ry="2.08" fill="#cab2d6" transform="rotate(-45 138.3 296.36)"/>
<ellipse cx="145.94" cy="296.36" rx="4.69" ry="2.08" fill="#cab2d6" transform="rotate(-45 145.94 296.36)"/>
<ellipse cx="153.58" cy="296.36" rx="4.69" ry="2.08" fill="#cab2d6" transform="rotate(-45 153.58 296.36)"/>
<ellipse cx="161.22" cy="296.36" rx="4.95" ry="1.36" fill="#5f2a9e" transform="rotate(-45 161.22 296.36)"/>
<ellipse cx="168.86" cy="296.36" rx="4.95" ry="1.36" fill="#5f2a9e" transform="rotate(-45 168.86 296.36)"/>
<ellipse cx="176.5" cy="296.36" rx="4.95" ry="1.36" fill="#5f2a9e" transform="rotate(-45 176.5 296.36)"/>
<ellipse cx="184.14" cy="296.36" rx="4.95" ry="1.36" fill="#5f2a9e" transform="rotate(-45 184.14 296.36)"/>
<ellipse cx="191.78" cy="296.36" rx="4.69" ry="2.08" fill="#cab2d6" transform="rotate(-45 191.78 296.36)"/>
<ellipse cx="46.62" cy="304" rx="3.44" ry="3.81" fill="#fb9a99" transform="rotate(-45 46.62 304)"/>
<ellipse cx="54.26" cy="304" rx="4.69" ry="2.08" fill="#cab2d6" transform="rotate(-45 54.26 304)"/>
<ellipse cx="61.9" cy="304" rx="4.69" ry="2.08" fill="#cab2d6" transform="rotate(-45 61.9 304)"/>
<ellipse cx="69.54" cy="304" rx="4.95" ry="1.36" fill="#5f2a9e" transform="rotate(-45 69.54 304)"/>
<ellipse cx="77.18" cy="304" rx="4.95" ry="1.36" fill="#5f2a9e" transform="rotate(-45 77.18 304)"/>
<ellipse cx="84.82" cy="304" rx="4.95" ry="1.36" fill="#5f2a9e" transform="rotate(-45 84.82 304)"/>
<ellipse cx="92.46" cy="304" rx="4.95" ry="1.36" fill="#5f2a9e" transform="rotate(-45 92.46 304)"/>
<line x1="96.54" y1="307.56" x2="103.66" y2="300.44" stroke="#6a3d9a" stroke-width="0.45" />
<ellipse cx="107.74" cy="304" rx="4.95" ry="1.36" fill="#5f2a9e" transform="rotate(-45 107.74 304)"/>
<ellipse cx="115.38" cy="304" rx="4.95" ry="1.36" fill="#5f2a9e" transform="rotate(-45 115.38 304)"/>
<ellipse cx="123.02" cy="304" rx="4.95" ry="1.36" fill="#5f2a9e" transform="rotate(-45 123.02 304)"/>
<ellipse cx="130.66" cy="304" rx="4.95" ry="1.36" fill="#5f2a9e" transform="rotate(-45 130.66 304)"/>
<ellipse cx="138.3" cy="304" rx="4.95" ry="1.36" fill="#5f2a9e" transform="rotate(-45 138.3 304)"/>
<ellipse cx="145.94" cy="304" rx="4.69" ry="2.08" fill="#cab2d6" transform="rotate(-45 145.94 304)"/>
<ellipse cx="153.58" cy="304" rx="4.95" ry="1.36" fill="#5f2a9e" transform="rotate(-45 153.58 304)"/>
<ellipse cx="161.22" cy="304" rx="4.95" ry="1.36" fill="#5f2a9e" transform="rotate(-45 161.22 304)"/>
<ellipse cx="168.86" cy="304" rx="4.95" ry="1.36" fill="#5f2a9e" transform="rotate(-45 168.86 304)"/>
<ellipse cx="176.5" cy="304" rx="4.95" ry="1.36" fill="#5f2a9e" transform="rotate(-45 176.5 304)"/>
<ellipse cx="184.14" cy="304" rx="4.95" ry="1.36" fill="#5f2a9e" transform="rotate(-45 184.14 304)"/>
<ellipse cx="191.78" cy="304" rx="4.69" ry="2.08" fill="#cab2d6" transform="rotate(-45 191.78 304)"/>
<ellipse cx="46.62" cy="311.64" rx="3.44" ry="3.81" fill="#fb9a99" transform="rotate(-45 46.62 311.64)"/>
<ellipse cx="54.26" cy="311.64" rx="4.69" ry="2.08" fill="#cab2d6" transform="rotate(-45 54.26 311.64)"/>
<ellipse cx="61.9" cy="311.64" rx="4.95" ry="1.36" fill="#5f2a9e" transform="rotate(-45 61.9 311.64)"/>
<ellipse cx="69.54" cy="311.64" rx="4.69" ry="2.08" fill="#cab2d6" transform="rotate(-45 69.54 311.64)"/>
<ellipse cx="77.18" cy="311.64" rx="4.69" ry="2.08" fill="#cab2d6" transform="rotate(-45 77.18 311.64)"/>
<ellipse cx="84.82" cy="311.64" rx="4.95" ry="1.36" fill="#5f2a9e" transform="rotate(-45 84.82 311.64)"/>
<ellipse cx="92.46" cy="311.64" rx="4.69" ry="2.08" fill="#cab2d6" transform="rotate(-45 92.46 311.64)"/>
<ellipse cx="100.1" cy="311.64" rx="4.95" ry="1.36" fill="#5f2a9e" transform="rotate(-45 100.1 311.64)"/>
<line x1="104.18" y1="315.2" x2="111.3" y2="308.08" stroke="#6a3d9a" stroke-width="0.45" />
<ellipse cx="115.38" cy="311.64" rx="4.95" ry="1.36" fill="#5f2a9e" transform="rotate(-45 115.38 311.64)"/>
<ellipse cx="123.02" cy="311.64" rx="4.95" ry="1.36" fill="#5f2a9e" transform="rotate(-45 123.02 311.64)"/>
<ellipse cx="130.66" cy="311.64" rx="4.95" ry="1.36" fill="#5f2a9e" transform="rotate(-45 130.66 311.64)"/>
<ellipse cx="138.3" cy="311.64" rx="4.95" ry="1.36" fill="#5f2a9e" transform="rotate(-45 138.3 311.64)"/>
<ellipse cx="145.94" cy="311.64" rx="4.95" ry="1.36" fill="#5f2a9e" transform="rotate(-45 145.94 311.64)"/>
<ellipse cx="153.58" cy="311.64" rx="4.95" ry="1.36" fill="#5f2a9e" transform="rotate(-45 153.58 311.64)"/>
<ellipse cx="161.22" cy="311.64" rx="4.95" ry="1.36" fill="#5f2a9e" transform="rotate(-45 161.22 311.64)"/>
<ellipse cx="168.86" cy="311.64" rx="4.95" ry="1.36" fill="#5f2a9e" transform="rotate(-45 168.86 311.64)"/>
<ellipse cx="176.5" cy="311.64" rx="4.95" ry="1.36" fill="#5f2a9e" transform="rotate(-45 176.5 311.64)"/>
<ellipse cx="184.14" cy="311.64" rx="4.95" ry="1.36" fill="#5f2a9e" transform="rotate(-45 184.14 311.64)"/>
<ellipse cx="191.78" cy="311.64" rx="4.95" ry="1.36" fill="#5f2a9e" transform="rotate(-45 191.78 311.64)"/>
<ellipse cx="46.62" cy="319.28" rx="3.84" ry="3.4" fill="#e31a1c" transform="rotate(-45 46.62 319.28)"/>
<ellipse cx="54.26" cy="319.28" rx="4.69" ry="2.08" fill="#cab2d6" transform="rotate(-45 54.26 319.28)"/>
<ellipse cx="61.9" cy="319.28" rx="4.95" ry="1.36" fill="#5f2a9e" transform="rotate(-45 61.9 319.28)"/>
<ellipse cx="69.54" cy="319.28" rx="4.95" ry="1.36" fill="#5f2a9e" transform="rotate(-45 69.54 319.28)"/>
<ellipse cx="77.18" cy="319.28" rx="4.95" ry="1.36" fill="#5f2a9e" transform="rotate(-45 77.18 319.28)"/>
<ellipse cx="84.82" cy="319.28" rx="4.69" ry="2.08" fill="#cab2d6" transform="rotate(-45 84.82 319.28)"/>
<ellipse cx="92.46" cy="319.28" rx="4.69" ry="2.08" fill="#cab2d6" transform="rotate(-45 92.46 319.28)"/>
<ellipse cx="100.1" cy="319.28" rx="4.95" ry="1.36" fill="#5f2a9e" transform="rotate(-45 100.1 319.28)"/>
<ellipse cx="107.74" cy="319.28" rx="4.95" ry="1.36" fill="#5f2a9e" transform="rotate(-45 107.74 319.28)"/>
<line x1="111.82" y1="322.84" x2="118.94" y2="315.72" stroke="#6a3d9a" stroke-width="0.45" />
<ellipse cx="123.02" cy="319.28" rx="4.95" ry="1.36" fill="#5f2a9e" transform="rotate(-45 123.02 319.28)"/>
<ellipse cx="130.66" cy="319.28" rx="4.95" ry="1.36" fill="#5f2a9e" transform="rotate(-45 130.66 319.28)"/>
<ellipse cx="138.3" cy="319.28" rx="4.95" ry="1.36" fill="#5f2a9e" transform="rotate(-45 138.3 319.28)"/>
<ellipse cx="145.94" cy="319.28" rx="4.69" ry="2.08" fill="#cab2d6" transform="rotate(-45 145.94 319.28)"/>
<ellipse cx="153.58" cy="319.28" rx="4.95" ry="1.36" fill="#5f2a9e" transform="rotate(-45 153.58 319.28)"/>
<ellipse cx="161.22" cy="319.28" rx="4.95" ry="1.36" fill="#5f2a9e" transform="rotate(-45 161.22 319.28)"/>
<ellipse cx="168.86" cy="319.28" rx="4.95" ry="1.36" fill="#5f2a9e" transform="rotate(-45 168.86 319.28)"/>
<ellipse cx="176.5" cy="319.28" rx="4.95" ry="1.36" fill="#5f2a9e" transform="rotate(-45 176.5 319.28)"/>
<ellipse cx="184.14" cy="319.28" rx="4.95" ry="1.36" fill="#5f2a9e" transform="rotate(-45 184.14 319.28)"/>
<ellipse cx="191.78" cy="319.28" rx="4.95" ry="1.36" fill="#5f2a9e" transform="rotate(-45 191.78 319.28)"/>
<ellipse cx="46.62" cy="326.92" rx="3.84" ry="3.4" fill="#e31a1c" transform="rotate(-45 46.62 326.92)"/>
<ellipse cx="54.26" cy="326.92" rx="4.69" ry="2.08" fill="#cab2d6" transform="rotate(-45 54.26 326.92)"/>
<ellipse cx="61.9" cy="326.92" rx="4.95" ry="1.36" fill="#5f2a9e" transform="rotate(-45 61.9 326.92)"/>
<ellipse cx="69.54" cy="326.92" rx="4.95" ry="1.36" fill="#5f2a9e" transform="rotate(-45 69.54 326.92)"/>
<ellipse cx="77.18" cy="326.92" rx="4.95" ry="1.36" fill="#5f2a9e" transform="rotate(-45 77.18 326.92)"/>
<ellipse cx="84.82" cy="326.92" rx="4.69" ry="2.08" fill="#cab2d6" transform="rotate(-45 84.82 326.92)"/>
<ellipse cx="92.46" cy="326.92" rx="4.69" ry="2.08" fill="#cab2d6" transform="rotate(-45 92.46 326.92)"/>
<ellipse cx="100.1" cy="326.92" rx="4.95" ry="1.36" fill="#5f2a9e" transform="rotate(-45 100.1 326.92)"/>
<ellipse cx="107.74" cy="326.92" rx="4.95" ry="1.36" fill="#5f2a9e" transform="rotate(-45 107.74 326.92)"/>
<ellipse cx="115.38" cy="326.92" rx="4.95" ry="1.36" fill="#5f2a9e" transform="rotate(-45 115.38 326.92)"/>
<line x1="119.46" y1="330.48" x2="126.58" y2="323.36" stroke="#6a3d9a" stroke-width="0.45" />
<ellipse cx="130.66" cy="326.92" rx="4.95" ry="1.36" fill="#5f2a9e" transform="rotate(-45 130.66 326.92)"/>
<ellipse cx="138.3" cy="326.92" rx="4.95" ry="1.36" fill="#5f2a9e" transform="rotate(-45 138.3 326.92)"/>
<ellipse cx="145.94" cy="326.92" rx="4.69" ry="2.08" fill="#cab2d6" transform="rotate(-45 145.94 326.92)"/>
<ellipse cx="153.58" cy="326.92" rx="4.69" ry="2.08" fill="#cab2d6" transform="rotate(-45 153.58 326.92)"/>
<ellipse cx="161.22" cy="326.92" rx="4.95" ry="1.36" fill="#5f2a9e" transform="rotate(-45 161.22 326.92)"/>
<ellipse cx="168.86" cy="326.92" rx="4.95" ry="1.36" fill="#5f2a9e" transform="rotate(-45 168.86 326.92)"/>
<ellipse cx="176.5" cy="326.92" rx="4.95" ry="1.36" fill="#5f2a9e" transform="rotate(-45 176.5 326.92)"/>
<ellipse cx="184.14" cy="326.92" rx="4.95" ry="1.36" fill="#5f2a9e" transform="rotate(-45 184.14 326.92)"/>
<ellipse cx="191.78" cy="326.92" rx="4.69" ry="2.08" fill="#cab2d6" transform="rotate(-45 191.78 326.92)"/>
<ellipse cx="46.62" cy="334.56" rx="3.84" ry="3.4" fill="#e31a1c" transform="rotate(-45 46.62 334.56)"/>
<ellipse cx="54.26" cy="334.56" rx="4.69" ry="2.08" fill="#cab2d6" transform="rotate(-45 54.26 334.56)"/>
<ellipse cx="61.9" cy="334.56" rx="4.95" ry="1.36" fill="#5f2a9e" transform="rotate(-45 61.9 334.56)"/>
<ellipse cx="69.54" cy="334.56" rx="4.69" ry="2.08" fill="#cab2d6" transform="rotate(-45 69.54 334.56)"/>
<ellipse cx="77.18" cy="334.56" rx="4.95" ry="1.36" fill="#5f2a9e" transform="rotate(-45 77.18 334.56)"/>
<ellipse cx="84.82" cy="334.56" rx="4.69" ry="2.08" fill="#cab2d6" transform="rotate(-45 84.82 334.56)"/>
<ellipse cx="92.46" cy="334.56" rx="4.69" ry="2.08" fill="#cab2d6" transform="rotate(-45 92.46 334.56)"/>
<ellipse cx="100.1" cy="334.56" rx="4.95" ry="1.36" fill="#5f2a9e" transform="rotate(-45 100.1 334.56)"/>
<ellipse cx="107.74" cy="334.56" rx="4.95" ry="1.36" fill="#5f2a9e" transform="rotate(-45 107.74 334.56)"/>
<ellipse cx="115.38" cy="334.56" rx="4.95" ry="1.36" fill="#5f2a9e" transform="rotate(-45 115.38 334.56)"/>
<ellipse cx="123.02" cy="334.56" rx="4.95" ry="1.36" fill="#5f2a9e" transform="rotate(-45 123.02 334.56)"/>
<line x1="127.1" y1="338.12" x2="134.22" y2="331" stroke="#6a3d9a" stroke-width="0.45" />
<ellipse cx="138.3" cy="334.56" rx="4.95" ry="1.36" fill="#5f2a9e" transform="rotate(-45 138.3 334.56)"/>
<ellipse cx="145.94" cy="334.56" rx="4.69" ry="2.08" fill="#cab2d6" transform="rotate(-45 145.94 334.56)"/>
<ellipse cx="153.58" cy="334.56" rx="4.95" ry="1.36" fill="#5f2a9e" transform="rotate(-45 153.58 334.56)"/>
<ellipse cx="161.22" cy="334.56" rx="4.95" ry="1.36" fill="#5f2a9e" transform="rotate(-45 161.22 334.56)"/>
<ellipse cx="168.86" cy="334.56" rx="4.95" ry="1.36" fill="#5f2a9e" transform="rotate(-45 168.86 334.56)"/>
<ellipse cx="176.5" cy="334.56" rx="4.95" ry="1.36" fill="#5f2a9e" transform="rotate(-45 176.5 334.56)"/>
<ellipse cx="184.14" cy="334.56" rx="4.95" ry="1.36" fill="#5f2a9e" transform="rotate(-45 184.14 334.56)"/>
<ellipse cx="191.78" cy="334.56" rx="4.69" ry="2.08" fill="#cab2d6" transform="rotate(-45 191.78 334.56)"/>
<ellipse cx="46.62" cy="342.2" rx="3.44" ry="3.81" fill="#fb9a99" transform="rotate(-45 46.62 342.2)"/>
<ellipse cx="54.26" cy="342.2" rx="4.69" ry="2.08" fill="#cab2d6" transform="rotate(-45 54.26 342.2)"/>
<ellipse cx="61.9" cy="342.2" rx="4.69" ry="2.08" fill="#cab2d6" transform="rotate(-45 61.9 342.2)"/>
<ellipse cx="69.54" cy="342.2" rx="4.69" ry="2.08" fill="#cab2d6" transform="rotate(-45 69.54 342.2)"/>
<ellipse cx="77.18" cy="342.2" rx="4.95" ry="1.36" fill="#5f2a9e" transform="rotate(-45 77.18 342.2)"/>
<ellipse cx="84.82" cy="342.2" rx="4.69" ry="2.08" fill="#cab2d6" transform="rotate(-45 84.82 342.2)"/>
<ellipse cx="92.46" cy="342.2" rx="4.69" ry="2.08" fill="#cab2d6" transform="rotate(-45 92.46 342.2)"/>
<ellipse cx="100.1" cy="342.2" rx="4.95" ry="1.36" fill="#5f2a9e" transform="rotate(-45 100.1 342.2)"/>
<ellipse cx="107.74" cy="342.2" rx="4.95" ry="1.36" fill="#5f2a9e" transform="rotate(-45 107.74 342.2)"/>
<ellipse cx="115.38" cy="342.2" rx="4.95" ry="1.36" fill="#5f2a9e" transform="rotate(-45 115.38 342.2)"/>
<ellipse cx="123.02" cy="342.2" rx="4.95" ry="1.36" fill="#5f2a9e" transform="rotate(-45 123.02 342.2)"/>
<ellipse cx="130.66" cy="342.2" rx="4.95" ry="1.36" fill="#5f2a9e" transform="rotate(-45 130.66 342.2)"/>
<line x1="134.74" y1="345.76" x2="141.86" y2="338.64" stroke="#6a3d9a" stroke-width="0.45" />
<ellipse cx="145.94" cy="342.2" rx="4.69" ry="2.08" fill="#cab2d6" transform="rotate(-45 145.94 342.2)"/>
<ellipse cx="153.58" cy="342.2" rx="4.69" ry="2.08" fill="#cab2d6" transform="rotate(-45 153.58 342.2)"/>
<ellipse cx="161.22" cy="342.2" rx="4.95" ry="1.36" fill="#5f2a9e" transform="rotate(-45 161.22 342.2)"/>
<ellipse cx="168.86" cy="342.2" rx="4.95" ry="1.36" fill="#5f2a9e" transform="rotate(-45 168.86 342.2)"/>
<ellipse cx="176.5" cy="342.2" rx="4.95" ry="1.36" fill="#5f2a9e" transform="rotate(-45 176.5 342.2)"/>
<ellipse cx="184.14" cy="342.2" rx="4.95" ry="1.36" fill="#5f2a9e" transform="rotate(-45 184.14 342.2)"/>
<ellipse cx="191.78" cy="342.2" rx="4.69" ry="2.08" fill="#cab2d6" transform="rotate(-45 191.78 342.2)"/>
<ellipse cx="46.62" cy="349.84" rx="3.04" ry="4.14" fill="#33a02c" transform="rotate(-45 46.62 349.84)"/>
<ellipse cx="54.26" cy="349.84" rx="4.69" ry="2.08" fill="#cab2d6" transform="rotate(-45 54.26 349.84)"/>
<ellipse cx="61.9" cy="349.84" rx="4.95" ry="1.36" fill="#5f2a9e" transform="rotate(-45 61.9 349.84)"/>
<ellipse cx="69.54" cy="349.84" rx="4.69" ry="2.08" fill="#cab2d6" transform="rotate(-45 69.54 349.84)"/>
<ellipse cx="77.18" cy="349.84" rx="4.44" ry="2.57" fill="#ff7f00" transform="rotate(-45 77.18 349.84)"/>
<ellipse cx="84.82" cy="349.84" rx="4.69" ry="2.08" fill="#cab2d6" transform="rotate(-45 84.82 349.84)"/>
<ellipse cx="92.46" cy="349.84" rx="4.69" ry="2.08" fill="#cab2d6" transform="rotate(-45 92.46 349.84)"/>
<ellipse cx="100.1" cy="349.84" rx="4.69" ry="2.08" fill="#cab2d6" transform="rotate(-45 100.1 349.84)"/>
<ellipse cx="107.74" cy="349.84" rx="4.95" ry="1.36" fill="#5f2a9e" transform="rotate(-45 107.74 349.84)"/>
<ellipse cx="115.38" cy="349.84" rx="4.69" ry="2.08" fill="#cab2d6" transform="rotate(-45 115.38 349.84)"/>
<ellipse cx="123.02" cy="349.84" rx="4.69" ry="2.08" fill="#cab2d6" transform="rotate(-45 123.02 349.84)"/>
<ellipse cx="130.66" cy="349.84" rx="4.69" ry="2.08" fill="#cab2d6" transform="rotate(-45 130.66 349.84)"/>
<ellipse cx="138.3" cy="349.84" rx="4.69" ry="2.08" fill="#cab2d6" transform="rotate(-45 138.3 349.84)"/>
<line x1="142.38" y1="353.4" x2="149.5" y2="346.28" stroke="#6a3d9a" stroke-width="0.45" />
<ellipse cx="153.58" cy="349.84" rx="4.95" ry="1.36" fill="#5f2a9e" transform="rotate(-45 153.58 349.84)"/>
<ellipse cx="161.22" cy="349.84" rx="4.69" ry="2.08" fill="#cab2d6" transform="rotate(-45 161.22 349.84)"/>
<ellipse cx="168.86" cy="349.84" rx="4.95" ry="1.36" fill="#5f2a9e" transform="rotate(-45 168.86 349.84)"/>
<ellipse cx="176.5" cy="349.84" rx="4.69" ry="2.08" fill="#cab2d6" transform="rotate(-45 176.5 349.84)"/>
<ellipse cx="184.14" cy="349.84" rx="4.95" ry="1.36" fill="#5f2a9e" transform="rotate(-45 184.14 349.84)"/>
<ellipse cx="191.78" cy="349.84" rx="4.95" ry="1.36" fill="#5f2a9e" transform="rotate(-45 191.78 349.84)"/>
<ellipse cx="46.62" cy="357.48" rx="3.44" ry="3.81" fill="#fb9a99" transform="rotate(-45 46.62 357.48)"/>
<ellipse cx="54.26" cy="357.48" rx="4.95" ry="1.36" fill="#5f2a9e" transform="rotate(-45 54.26 357.48)"/>
<ellipse cx="61.9" cy="357.48" rx="4.95" ry="1.36" fill="#5f2a9e" transform="rotate(-45 61.9 357.48)"/>
<ellipse cx="69.54" cy="357.48" rx="4.95" ry="1.36" fill="#5f2a9e" transform="rotate(-45 69.54 357.48)"/>
<ellipse cx="77.18" cy="357.48" rx="4.69" ry="2.08" fill="#cab2d6" transform="rotate(-45 77.18 357.48)"/>
<ellipse cx="84.82" cy="357.48" rx="4.95" ry="1.36" fill="#5f2a9e" transform="rotate(-45 84.82 357.48)"/>
<ellipse cx="92.46" cy="357.48" rx="4.69" ry="2.08" fill="#cab2d6" transform="rotate(-45 92.46 357.48)"/>
<ellipse cx="100.1" cy="357.48" rx="4.95" ry="1.36" fill="#5f2a9e" transform="rotate(-45 100.1 357.48)"/>
<ellipse cx="107.74" cy="357.48" rx="4.95" ry="1.36" fill="#5f2a9e" transform="rotate(-45 107.74 357.48)"/>
<ellipse cx="115.38" cy="357.48" rx="4.95" ry="1.36" fill="#5f2a9e" transform="rotate(-45 115.38 357.48)"/>
<ellipse cx="123.02" cy="357.48" rx="4.69" ry="2.08" fill="#cab2d6" transform="rotate(-45 123.02 357.48)"/>
<ellipse cx="130.66" cy="357.48" rx="4.95" ry="1.36" fill="#5f2a9e" transform="rotate(-45 130.66 357.48)"/>
<ellipse cx="138.3" cy="357.48" rx="4.69" ry="2.08" fill="#cab2d6" transform="rotate(-45 138.3 357.48)"/>
<ellipse cx="145.94" cy="357.48" rx="4.95" ry="1.36" fill="#5f2a9e" transform="rotate(-45 145.94 357.48)"/>
<line x1="150.02" y1="361.04" x2="157.14" y2="353.92" stroke="#6a3d9a" stroke-width="0.45" />
<ellipse cx="161.22" cy="357.48" rx="4.95" ry="1.36" fill="#5f2a9e" transform="rotate(-45 161.22 357.48)"/>
<ellipse cx="168.86" cy="357.48" rx="4.95" ry="1.36" fill="#5f2a9e" transform="rotate(-45 168.86 357.48)"/>
<ellipse cx="176.5" cy="357.48" rx="4.95" ry="1.36" fill="#5f2a9e" transform="rotate(-45 176.5 357.48)"/>
<ellipse cx="184.14" cy="357.48" rx="4.95" ry="1.36" fill="#5f2a9e" transform="rotate(-45 184.14 357.48)"/>
<ellipse cx="191.78" cy="357.48" rx="4.95" ry="1.36" fill="#5f2a9e" transform="rotate(-45 191.78 357.48)"/>
<ellipse cx="46.62" cy="365.12" rx="3.44" ry="3.81" fill="#fb9a99" transform="rotate(-45 46.62 365.12)"/>
<ellipse cx="54.26" cy="365.12" rx="4.95" ry="1.36" fill="#5f2a9e" transform="rotate(-45 54.26 365.12)"/>
<ellipse cx="61.9" cy="365.12" rx="4.95" ry="1.36" fill="#5f2a9e" transform="rotate(-45 61.9 365.12)"/>
<ellipse cx="69.54" cy="365.12" rx="4.95" ry="1.36" fill="#5f2a9e" transform="rotate(-45 69.54 365.12)"/>
<ellipse cx="77.18" cy="365.12" rx="4.95" ry="1.36" fill="#5f2a9e" transform="rotate(-45 77.18 365.12)"/>
<ellipse cx="84.82" cy="365.12" rx="4.95" ry="1.36" fill="#5f2a9e" transform="rotate(-45 84.82 365.12)"/>
<ellipse cx="92.46" cy="365.12" rx="4.95" ry="1.36" fill="#5f2a9e" transform="rotate(-45 92.46 365.12)"/>
<ellipse cx="100.1" cy="365.12" rx="4.95" ry="1.36" fill="#5f2a9e" transform="rotate(-45 100.1 365.12)"/>
<ellipse cx="107.74" cy="365.12" rx="4.95" ry="1.36" fill="#5f2a9e" transform="rotate(-45 107.74 365.12)"/>
<ellipse cx="115.38" cy="365.12" rx="4.95" ry="1.36" fill="#5f2a9e" transform="rotate(-45 115.38 365.12)"/>
<ellipse cx="123.02" cy="365.12" rx="4.95" ry="1.36" fill="#5f2a9e" transform="rotate(-45 123.02 365.12)"/>
<ellipse cx="130.66" cy="365.12" rx="4.95" ry="1.36" fill="#5f2a9e" transform="rotate(-45 130.66 365.12)"/>
<ellipse cx="138.3" cy="365.12" rx="4.95" ry="1.36" fill="#5f2a9e" transform="rotate(-45 138.3 365.12)"/>
<ellipse cx="145.94" cy="365.12" rx="4.69" ry="2.08" fill="#cab2d6" transform="rotate(-45 145.94 365.12)"/>
<ellipse cx="153.58" cy="365.12" rx="4.95" ry="1.36" fill="#5f2a9e" transform="rotate(-45 153.58 365.12)"/>
<line x1="157.66" y1="368.68" x2="164.78" y2="361.56" stroke="#6a3d9a" stroke-width="0.45" />
<ellipse cx="168.86" cy="365.12" rx="4.95" ry="1.36" fill="#5f2a9e" transform="rotate(-45 168.86 365.12)"/>
<ellipse cx="176.5" cy="365.12" rx="4.95" ry="1.36" fill="#5f2a9e" transform="rotate(-45 176.5 365.12)"/>
<ellipse cx="184.14" cy="365.12" rx="4.95" ry="1.36" fill="#5f2a9e" transform="rotate(-45 184.14 365.12)"/>
<ellipse cx="191.78" cy="365.12" rx="4.95" ry="1.36" fill="#5f2a9e" transform="rotate(-45 191.78 365.12)"/>
<ellipse cx="46.62" cy="372.76" rx="3.04" ry="4.14" fill="#33a02c" transform="rotate(-45 46.62 372.76)"/>
<ellipse cx="54.26" cy="372.76" rx="4.95" ry="1.36" fill="#5f2a9e" transform="rotate(-45 54.26 372.76)"/>
<ellipse cx="61.9" cy="372.76" rx="4.95" ry="1.36" fill="#5f2a9e" transform="rotate(-45 61.9 372.76)"/>
<ellipse cx="69.54" cy="372.76" rx="4.95" ry="1.36" fill="#5f2a9e" transform="rotate(-45 69.54 372.76)"/>
<ellipse cx="77.18" cy="372.76" rx="4.95" ry="1.36" fill="#5f2a9e" transform="rotate(-45 77.18 372.76)"/>
<ellipse cx="84.82" cy="372.76" rx="4.95" ry="1.36" fill="#5f2a9e" transform="rotate(-45 84.82 372.76)"/>
<ellipse cx="92.46" cy="372.76" rx="4.95" ry="1.36" fill="#5f2a9e" transform="rotate(-45 92.46 372.76)"/>
<ellipse cx="100.1" cy="372.76" rx="4.95" ry="1.36" fill="#5f2a9e" transform="rotate(-45 100.1 372.76)"/>
<ellipse cx="107.74" cy="372.76" rx="4.95" ry="1.36" fill="#5f2a9e" transform="rotate(-45 107.74 372.76)"/>
<ellipse cx="115.38" cy="372.76" rx="4.95" ry="1.36" fill="#5f2a9e" transform="rotate(-45 115.38 372.76)"/>
<ellipse cx="123.02" cy="372.76" rx="4.95" ry="1.36" fill="#5f2a9e" transform="rotate(-45 123.02 372.76)"/>
<ellipse cx="130.66" cy="372.76" rx="4.95" ry="1.36" fill="#5f2a9e" transform="rotate(-45 130.66 372.76)"/>
<ellipse cx="138.3" cy="372.76" rx="4.95" ry="1.36" fill="#5f2a9e" transform="rotate(-45 138.3 372.76)"/>
<ellipse cx="145.94" cy="372.76" rx="4.95" ry="1.36" fill="#5f2a9e" transform="rotate(-45 145.94 372.76)"/>
<ellipse cx="153.58" cy="372.76" rx="4.95" ry="1.36" fill="#5f2a9e" transform="rotate(-45 153.58 372.76)"/>
<ellipse cx="161.22" cy="372.76" rx="4.95" ry="1.36" fill="#5f2a9e" transform="rotate(-45 161.22 372.76)"/>
<line x1="165.3" y1="376.32" x2="172.42" y2="369.2" stroke="#6a3d9a" stroke-width="0.45" />
<ellipse cx="176.5" cy="372.76" rx="4.95" ry="1.36" fill="#5f2a9e" transform="rotate(-45 176.5 372.76)"/>
<ellipse cx="184.14" cy="372.76" rx="4.95" ry="1.36" fill="#5f2a9e" transform="rotate(-45 184.14 372.76)"/>
<ellipse cx="191.78" cy="372.76" rx="4.95" ry="1.36" fill="#5f2a9e" transform="rotate(-45 191.78 372.76)"/>
<ellipse cx="46.62" cy="380.4" rx="3.44" ry="3.81" fill="#fb9a99" transform="rotate(-45 46.62 380.4)"/>
<ellipse cx="54.26" cy="380.4" rx="4.69" ry="2.08" fill="#cab2d6" transform="rotate(-45 54.26 380.4)"/>
<ellipse cx="61.9" cy="380.4" rx="4.95" ry="1.36" fill="#5f2a9e" transform="rotate(-45 61.9 380.4)"/>
<ellipse cx="69.54" cy="380.4" rx="4.95" ry="1.36" fill="#5f2a9e" transform="rotate(-45 69.54 380.4)"/>
<ellipse cx="77.18" cy="380.4" rx="4.95" ry="1.36" fill="#5f2a9e" transform="rotate(-45 77.18 380.4)"/>
<ellipse cx="84.82" cy="380.4" rx="4.95" ry="1.36" fill="#5f2a9e" transform="rotate(-45 84.82 380.4)"/>
<ellipse cx="92.46" cy="380.4" rx="4.95" ry="1.36" fill="#5f2a9e" transform="rotate(-45 92.46 380.4)"/>
<ellipse cx="100.1" cy="380.4" rx="4.95" ry="1.36" fill="#5f2a9e" transform="rotate(-45 100.1 380.4)"/>
<ellipse cx="107.74" cy="380.4" rx="4.95" ry="1.36" fill="#5f2a9e" transform="rotate(-45 107.74 380.4)"/>
<ellipse cx="115.38" cy="380.4" rx="4.95" ry="1.36" fill="#5f2a9e" transform="rotate(-45 115.38 380.4)"/>
<ellipse cx="123.02" cy="380.4" rx="4.95" ry="1.36" fill="#5f2a9e" transform="rotate(-45 123.02 380.4)"/>
<ellipse cx="130.66" cy="380.4" rx="4.95" ry="1.36" fill="#5f2a9e" transform="rotate(-45 130.66 380.4)"/>
<ellipse cx="138.3" cy="380.4" rx="4.95" ry="1.36" fill="#5f2a9e" transform="rotate(-45 138.3 380.4)"/>
<ellipse cx="145.94" cy="380.4" rx="4.69" ry="2.08" fill="#cab2d6" transform="rotate(-45 145.94 380.4)"/>
<ellipse cx="153.58" cy="380.4" rx="4.95" ry="1.36" fill="#5f2a9e" transform="rotate(-45 153.58 380.4)"/>
<ellipse cx="161.22" cy="380.4" rx="4.95" ry="1.36" fill="#5f2a9e" transform="rotate(-45 161.22 380.4)"/>
<ellipse cx="168.86" cy="380.4" rx="4.95" ry="1.36" fill="#5f2a9e" transform="rotate(-45 168.86 380.4)"/>
<line x1="172.94" y1="383.96" x2="180.06" y2="376.84" stroke="#6a3d9a" stroke-width="0.45" />
<ellipse cx="184.14" cy="380.4" rx="4.95" ry="1.36" fill="#5f2a9e" transform="rotate(-45 184.14 380.4)"/>
<ellipse cx="191.78" cy="380.4" rx="4.95" ry="1.36" fill="#5f2a9e" transform="rotate(-45 191.78 380.4)"/>
<ellipse cx="46.62" cy="388.04" rx="3.04" ry="4.14" fill="#33a02c" transform="rotate(-45 46.62 388.04)"/>
<ellipse cx="54.26" cy="388.04" rx="4.69" ry="2.08" fill="#cab2d6" transform="rotate(-45 54.26 388.04)"/>
<ellipse cx="61.9" cy="388.04" rx="4.95" ry="1.36" fill="#5f2a9e" transform="rotate(-45 61.9 388.04)"/>
<ellipse cx="69.54" cy="388.04" rx="4.95" ry="1.36" fill="#5f2a9e" transform="rotate(-45 69.54 388.04)"/>
<ellipse cx="77.18" cy="388.04" rx="4.69" ry="2.08" fill="#cab2d6" transform="rotate(-45 77.18 388.04)"/>
<ellipse cx="84.82" cy="388.04" rx="4.95" ry="1.36" fill="#5f2a9e" transform="rotate(-45 84.82 388.04)"/>
<ellipse cx="92.46" cy="388.04" rx="4.95" ry="1.36" fill="#5f2a9e" transform="rotate(-45 92.46 388.04)"/>
<ellipse cx="100.1" cy="388.04" rx="4.95" ry="1.36" fill="#5f2a9e" transform="rotate(-45 100.1 388.04)"/>
<ellipse cx="107.74" cy="388.04" rx="4.95" ry="1.36" fill="#5f2a9e" transform="rotate(-45 107.74 388.04)"/>
<ellipse cx="115.38" cy="388.04" rx="4.95" ry="1.36" fill="#5f2a9e" transform="rotate(-45 115.38 388.04)"/>
<ellipse cx="123.02" cy="388.04" rx="4.95" ry="1.36" fill="#5f2a9e" transform="rotate(-45 123.02 388.04)"/>
<ellipse cx="130.66" cy="388.04" rx="4.95" ry="1.36" fill="#5f2a9e" transform="rotate(-45 130.66 388.04)"/>
<ellipse cx="138.3" cy="388.04" rx="4.95" ry="1.36" fill="#5f2a9e" transform="rotate(-45 138.3 388.04)"/>
<ellipse cx="145.94" cy="388.04" rx="4.95" ry="1.36" fill="#5f2a9e" transform="rotate(-45 145.94 388.04)"/>
<ellipse cx="153.58" cy="388.04" rx="4.95" ry="1.36" fill="#5f2a9e" transform="rotate(-45 153.58 388.04)"/>
<ellipse cx="161.22" cy="388.04" rx="4.95" ry="1.36" fill="#5f2a9e" transform="rotate(-45 161.22 388.04)"/>
<ellipse cx="168.86" cy="388.04" rx="4.95" ry="1.36" fill="#5f2a9e" transform="rotate(-45 168.86 388.04)"/>
<ellipse cx="176.5" cy="388.04" rx="4.95" ry="1.36" fill="#5f2a9e" transform="rotate(-45 176.5 388.04)"/>
<line x1="180.58" y1="391.6" x2="187.7" y2="384.48" stroke="#6a3d9a" stroke-width="0.45" />
<ellipse cx="191.78" cy="388.04" rx="4.95" ry="1.36" fill="#5f2a9e" transform="rotate(-45 191.78 388.04)"/>
<ellipse cx="46.62" cy="395.68" rx="3.44" ry="3.81" fill="#fb9a99" transform="rotate(-45 46.62 395.68)"/>
<ellipse cx="54.26" cy="395.68" rx="4.69" ry="2.08" fill="#cab2d6" transform="rotate(-45 54.26 395.68)"/>
<ellipse cx="61.9" cy="395.68" rx="4.95" ry="1.36" fill="#5f2a9e" transform="rotate(-45 61.9 395.68)"/>
<ellipse cx="69.54" cy="395.68" rx="4.95" ry="1.36" fill="#5f2a9e" transform="rotate(-45 69.54 395.68)"/>
<ellipse cx="77.18" cy="395.68" rx="4.69" ry="2.08" fill="#cab2d6" transform="rotate(-45 77.18 395.68)"/>
<ellipse cx="84.82" cy="395.68" rx="4.69" ry="2.08" fill="#cab2d6" transform="rotate(-45 84.82 395.68)"/>
<ellipse cx="92.46" cy="395.68" rx="4.69" ry="2.08" fill="#cab2d6" transform="rotate(-45 92.46 395.68)"/>
<ellipse cx="100.1" cy="395.68" rx="4.69" ry="2.08" fill="#cab2d6" transform="rotate(-45 100.1 395.68)"/>
<ellipse cx="107.74" cy="395.68" rx="4.95" ry="1.36" fill="#5f2a9e" transform="rotate(-45 107.74 395.68)"/>
<ellipse cx="115.38" cy="395.68" rx="4.95" ry="1.36" fill="#5f2a9e" transform="rotate(-45 115.38 395.68)"/>
<ellipse cx="123.02" cy="395.68" rx="4.69" ry="2.08" fill="#cab2d6" transform="rotate(-45 123.02 395.68)"/>
<ellipse cx="130.66" cy="395.68" rx="4.69" ry="2.08" fill="#cab2d6" transform="rotate(-45 130.66 395.68)"/>
<ellipse cx="138.3" cy="395.68" rx="4.69" ry="2.08" fill="#cab2d6" transform="rotate(-45 138.3 395.68)"/>
<ellipse cx="145.94" cy="395.68" rx="4.95" ry="1.36" fill="#5f2a9e" transform="rotate(-45 145.94 395.68)"/>
<ellipse cx="153.58" cy="395.68" rx="4.95" ry="1.36" fill="#5f2a9e" transform="rotate(-45 153.58 395.68)"/>
<ellipse cx="161.22" cy="395.68" rx="4.95" ry="1.36" fill="#5f2a9e" transform="rotate(-45 161.22 395.68)"/>
<ellipse cx="168.86" cy="395.68" rx="4.95" ry="1.36" fill="#5f2a9e" transform="rotate(-45 168.86 395.68)"/>
<ellipse cx="176.5" cy="395.68" rx="4.95" ry="1.36" fill="#5f2a9e" transform="rotate(-45 176.5 395.68)"/>
<ellipse cx="184.14" cy="395.68" rx="4.95" ry="1.36" fill="#5f2a9e" transform="rotate(-45 184.14 395.68)"/>
<line x1="188.22" y1="399.24" x2="195.34" y2="392.12" stroke="#6a3d9a" stroke-width="0.45" />
<rect x="42.8" y="246.7" width="7.64" height="7.64" fill="none" stroke="#ff5fd2" stroke-width="0.9" />
<rect x="50.44" y="254.34" width="45.84" height="45.84" fill="none" stroke="#ff5fd2" stroke-width="0.9" />
<rect x="96.28" y="300.18" width="45.84" height="45.84" fill="none" stroke="#ff5fd2" stroke-width="0.9" />
<rect x="142.12" y="346.02" width="53.48" height="53.48" fill="none" stroke="#ff5fd2" stroke-width="0.9" />
<text x="39.9" y="252.32" font-size="4.7" font-weight="bold" text-anchor="end" fill="#3a3a3a" font-family='"Liberation Sans", sans-serif' >FTO</text>
<text x="39.9" y="259.96" font-size="4.7" font-weight="bold" text-anchor="end" fill="#3a3a3a" font-family='"Liberation Sans", sans-serif' >IGF2BP3</text>
<text x="39.9" y="267.6" font-size="4.7" font-weight="bold" text-anchor="end" fill="#3a3a3a" font-family='"Liberation Sans", sans-serif' >METTL16</text>
<text x="39.9" y="275.24" font-size="4.7" font-weight="bold" text-anchor="end" fill="#3a3a3a" font-family='"Liberation Sans", sans-serif' >LRPPRC</text>
<text x="39.9" y="282.88" font-size="4.7" font-weight="bold" text-anchor="end" fill="#3a3a3a" font-family='"Liberation Sans", sans-serif' >HNRNPC</text>
<text x="39.9" y="290.52" font-size="4.7" font-weight="bold" text-anchor="end" fill="#3a3a3a" font-family='"Liberation Sans", sans-serif' >YTHDC2</text>
<text x="39.9" y="298.16" font-size="4.7" font-weight="bold" text-anchor="end" fill="#3a3a3a" font-family='"Liberation Sans", sans-serif' >HNRNPA2B1</text>
<text x="39.9" y="305.8" font-size="4.7" font-weight="bold" text-anchor="end" fill="#3a3a3a" font-family='"Liberation Sans", sans-serif' >YTHDF2</text>
<text x="39.9" y="313.44" font-size="4.7" font-weight="bold" text-anchor="end" fill="#3a3a3a" font-family='"Liberation Sans", sans-serif' >RBM15</text>
<text x="39.9" y="321.08" font-size="4.7" font-weight="bold" text-anchor="end" fill="#3a3a3a" font-family='"Liberation Sans", sans-serif' >IGF2BP2</text>
<text x="39.9" y="328.72" font-size="4.7" font-weight="bold" text-anchor="end" fill="#3a3a3a" font-family='"Liberation Sans", sans-serif' >FMR1</text>
<text x="39.9" y="336.36" font-size="4.7" font-weight="bold" text-anchor="end" fill="#3a3a3a" font-family='"Liberation Sans", sans-serif' >YTHDF1</text>
<text x="39.9" y="344" font-size="4.7" font-weight="bold" text-anchor="end" fill="#3a3a3a" font-family='"Liberation Sans", sans-serif' >CBLL1</text>
<text x="39.9" y="351.64" font-size="4.7" font-weight="bold" text-anchor="end" fill="#3a3a3a" font-family='"Liberation Sans", sans-serif' >ZC3H13</text>
<text x="39.9" y="359.28" font-size="4.7" font-weight="bold" text-anchor="end" fill="#3a3a3a" font-family='"Liberation Sans", sans-serif' >YTHDC1</text>
<text x="39.9" y="366.92" font-size="4.7" font-weight="bold" text-anchor="end" fill="#3a3a3a" font-family='"Liberation Sans", sans-serif' >ALKBH5</text>
<text x="39.9" y="374.56" font-size="4.7" font-weight="bold" text-anchor="end" fill="#3a3a3a" font-family='"Liberation Sans", sans-serif' >KIAA1429</text>
<text x="39.9" y="382.2" font-size="4.7" font-weight="bold" text-anchor="end" fill="#3a3a3a" font-family='"Liberation Sans", sans-serif' >WTAP</text>
<text x="39.9" y="389.84" font-size="4.7" font-weight="bold" text-anchor="end" fill="#3a3a3a" font-family='"Liberation Sans", sans-serif' >METTL14</text>
<text x="39.9" y="397.48" font-size="4.7" font-weight="bold" text-anchor="end" fill="#3a3a3a" font-family='"Liberation Sans", sans-serif' >YTHDF3</text>
<text x="47.62" y="246.2" font-size="4.7" font-weight="bold" fill="#333" font-family='"Liberation Sans", sans-serif' transform="rotate(-45 47.62 246.2)">FTO</text>
<text x="55.26" y="246.2" font-size="4.7" font-weight="bold" fill="#333" font-family='"Liberation Sans", sans-serif' transform="rotate(-45 55.26 246.2)">IGF2BP3</text>
<text x="62.9" y="246.2" font-size="4.7" font-weight="bold" fill="#333" font-family='"Liberation Sans", sans-serif' transform="rotate(-45 62.9 246.2)">METTL16</text>
<text x="70.54" y="246.2" font-size="4.7" font-weight="bold" fill="#333" font-family='"Liberation Sans", sans-serif' transform="rotate(-45 70.54 246.2)">LRPPRC</text>
<text x="78.18" y="246.2" font-size="4.7" font-weight="bold" fill="#333" font-family='"Liberation Sans", sans-serif' transform="rotate(-45 78.18 246.2)">HNRNPC</text>
<text x="85.82" y="246.2" font-size="4.7" font-weight="bold" fill="#333" font-family='"Liberation Sans", sans-serif' transform="rotate(-45 85.82 246.2)">YTHDC2</text>
<text x="93.46" y="246.2" font-size="4.7" font-weight="bold" fill="#333" font-family='"Liberation Sans", sans-serif' transform="rotate(-45 93.46 246.2)">HNRNPA2B1</text>
<text x="101.1" y="246.2" font-size="4.7" font-weight="bold" fill="#333" font-family='"Liberation Sans", sans-serif' transform="rotate(-45 101.1 246.2)">YTHDF2</text>
<text x="108.74" y="246.2" font-size="4.7" font-weight="bold" fill="#333" font-family='"Liberation Sans", sans-serif' transform="rotate(-45 108.74 246.2)">RBM15</text>
<text x="116.38" y="246.2" font-size="4.7" font-weight="bold" fill="#333" font-family='"Liberation Sans", sans-serif' transform="rotate(-45 116.38 246.2)">IGF2BP2</text>
<text x="124.02" y="246.2" font-size="4.7" font-weight="bold" fill="#333" font-family='"Liberation Sans", sans-serif' transform="rotate(-45 124.02 246.2)">FMR1</text>
<text x="131.66" y="246.2" font-size="4.7" font-weight="bold" fill="#333" font-family='"Liberation Sans", sans-serif' transform="rotate(-45 131.66 246.2)">YTHDF1</text>
<text x="139.3" y="246.2" font-size="4.7" font-weight="bold" fill="#333" font-family='"Liberation Sans", sans-serif' transform="rotate(-45 139.3 246.2)">CBLL1</text>
<text x="146.94" y="246.2" font-size="4.7" font-weight="bold" fill="#333" font-family='"Liberation Sans", sans-serif' transform="rotate(-45 146.94 246.2)">ZC3H13</text>
<text x="154.58" y="246.2" font-size="4.7" font-weight="bold" fill="#333" font-family='"Liberation Sans", sans-serif' transform="rotate(-45 154.58 246.2)">YTHDC1</text>
<text x="162.22" y="246.2" font-size="4.7" font-weight="bold" fill="#333" font-family='"Liberation Sans", sans-serif' transform="rotate(-45 162.22 246.2)">ALKBH5</text>
<text x="169.86" y="246.2" font-size="4.7" font-weight="bold" fill="#333" font-family='"Liberation Sans", sans-serif' transform="rotate(-45 169.86 246.2)">KIAA1429</text>
<text x="177.5" y="246.2" font-size="4.7" font-weight="bold" fill="#333" font-family='"Liberation Sans", sans-serif' transform="rotate(-45 177.5 246.2)">WTAP</text>
<text x="185.14" y="246.2" font-size="4.7" font-weight="bold" fill="#333" font-family='"Liberation Sans", sans-serif' transform="rotate(-45 185.14 246.2)">METTL14</text>
<text x="192.78" y="246.2" font-size="4.7" font-weight="bold" fill="#333" font-family='"Liberation Sans", sans-serif' transform="rotate(-45 192.78 246.2)">YTHDF3</text>
<rect x="198.3" y="246.8" width="10.5" height="15.3" fill="#6a3d9a" stroke="none" stroke-width="0" />
<rect x="198.3" y="262.05" width="10.5" height="15.3" fill="#cab2d6" stroke="none" stroke-width="0" />
<rect x="198.3" y="277.3" width="10.5" height="15.3" fill="#ff7f00" stroke="none" stroke-width="0" />
<rect x="198.3" y="292.55" width="10.5" height="15.3" fill="#fdbf6f" stroke="none" stroke-width="0" />
<rect x="198.3" y="307.8" width="10.5" height="15.3" fill="#e31a1c" stroke="none" stroke-width="0" />
<rect x="198.3" y="323.05" width="10.5" height="15.3" fill="#fb9a99" stroke="none" stroke-width="0" />
<rect x="198.3" y="338.3" width="10.5" height="15.3" fill="#33a02c" stroke="none" stroke-width="0" />
<rect x="198.3" y="353.55" width="10.5" height="15.3" fill="#b2df8a" stroke="none" stroke-width="0" />
<rect x="198.3" y="368.8" width="10.5" height="15.3" fill="#1f78b4" stroke="none" stroke-width="0" />
<rect x="198.3" y="384.05" width="10.5" height="15.3" fill="#a6cee3" stroke="none" stroke-width="0" />
<rect x="198.3" y="246.8" width="10.5" height="152.5" fill="none" stroke="#555" stroke-width="0.4" />
<line x1="208.8" y1="246.8" x2="209.8" y2="246.8" stroke="#555" stroke-width="0.4" />
<text x="221.6" y="249" font-size="6.2" font-weight="normal" text-anchor="middle" fill="#2a2a2a" font-family='"Liberation Sans", sans-serif' >1</text>
<line x1="208.8" y1="262.05" x2="209.8" y2="262.05" stroke="#555" stroke-width="0.4" />
<text x="221.6" y="264.25" font-size="6.2" font-weight="normal" text-anchor="middle" fill="#2a2a2a" font-family='"Liberation Sans", sans-serif' >0.8</text>
<line x1="208.8" y1="277.3" x2="209.8" y2="277.3" stroke="#555" stroke-width="0.4" />
<text x="221.6" y="279.5" font-size="6.2" font-weight="normal" text-anchor="middle" fill="#2a2a2a" font-family='"Liberation Sans", sans-serif' >0.6</text>
<line x1="208.8" y1="292.55" x2="209.8" y2="292.55" stroke="#555" stroke-width="0.4" />
<text x="221.6" y="294.75" font-size="6.2" font-weight="normal" text-anchor="middle" fill="#2a2a2a" font-family='"Liberation Sans", sans-serif' >0.4</text>
<line x1="208.8" y1="307.8" x2="209.8" y2="307.8" stroke="#555" stroke-width="0.4" />
<text x="221.6" y="310" font-size="6.2" font-weight="normal" text-anchor="middle" fill="#2a2a2a" font-family='"Liberation Sans", sans-serif' >0.2</text>
<line x1="208.8" y1="323.05" x2="209.8" y2="323.05" stroke="#555" stroke-width="0.4" />
<text x="221.6" y="325.25" font-size="6.2" font-weight="normal" text-anchor="middle" fill="#2a2a2a" font-family='"Liberation Sans", sans-serif' >0</text>
<line x1="208.8" y1="338.3" x2="209.8" y2="338.3" stroke="#555" stroke-width="0.4" />
<text x="221.6" y="340.5" font-size="6.2" font-weight="normal" text-anchor="middle" fill="#2a2a2a" font-family='"Liberation Sans", sans-serif' >−0.2</text>
<line x1="208.8" y1="353.55" x2="209.8" y2="353.55" stroke="#555" stroke-width="0.4" />
<text x="221.6" y="355.75" font-size="6.2" font-weight="normal" text-anchor="middle" fill="#2a2a2a" font-family='"Liberation Sans", sans-serif' >−0.4</text>
<line x1="208.8" y1="368.8" x2="209.8" y2="368.8" stroke="#555" stroke-width="0.4" />
<text x="221.6" y="371" font-size="6.2" font-weight="normal" text-anchor="middle" fill="#2a2a2a" font-family='"Liberation Sans", sans-serif' >−0.6</text>
<line x1="208.8" y1="384.05" x2="209.8" y2="384.05" stroke="#555" stroke-width="0.4" />
<text x="221.6" y="386.25" font-size="6.2" font-weight="normal" text-anchor="middle" fill="#2a2a2a" font-family='"Liberation Sans", sans-serif' >−0.8</text>
<line x1="208.8" y1="399.3" x2="209.8" y2="399.3" stroke="#555" stroke-width="0.4" />
<text x="221.6" y="401.5" font-size="6.2" font-weight="normal" text-anchor="middle" fill="#2a2a2a" font-family='"Liberation Sans", sans-serif' >−1</text>
<text x="377.9" y="213.1" font-size="8.7" font-weight="bold" text-anchor="middle" fill="#111" font-family='"Liberation Sans", sans-serif' >Advanced Volcano Plot</text>
<text x="377.8" y="224.8" font-size="6.6" font-weight="normal" text-anchor="middle" fill="#222" font-family='"Liberation Sans", sans-serif' >Total Genes: 20</text>
<line x1="309.9" y1="232.4" x2="309.9" y2="387.7" stroke="#f5f5f5" stroke-width="0.5" />
<line x1="355.1" y1="232.4" x2="355.1" y2="387.7" stroke="#f5f5f5" stroke-width="0.5" />
<line x1="400.3" y1="232.4" x2="400.3" y2="387.7" stroke="#f5f5f5" stroke-width="0.5" />
<line x1="445.5" y1="232.4" x2="445.5" y2="387.7" stroke="#f5f5f5" stroke-width="0.5" />
<line x1="303.3" y1="358.2" x2="452.3" y2="358.2" stroke="#f5f5f5" stroke-width="0.5" />
<line x1="303.3" y1="313.6" x2="452.3" y2="313.6" stroke="#f5f5f5" stroke-width="0.5" />
<line x1="303.3" y1="269" x2="452.3" y2="269" stroke="#f5f5f5" stroke-width="0.5" />
<line x1="332.5" y1="232.4" x2="332.5" y2="387.7" stroke="#ececec" stroke-width="0.6" />
<line x1="377.7" y1="232.4" x2="377.7" y2="387.7" stroke="#ececec" stroke-width="0.6" />
<line x1="422.9" y1="232.4" x2="422.9" y2="387.7" stroke="#ececec" stroke-width="0.6" />
<line x1="303.3" y1="380.5" x2="452.3" y2="380.5" stroke="#ececec" stroke-width="0.6" />
<line x1="303.3" y1="335.9" x2="452.3" y2="335.9" stroke="#ececec" stroke-width="0.6" />
<line x1="303.3" y1="291.3" x2="452.3" y2="291.3" stroke="#ececec" stroke-width="0.6" />
<line x1="303.3" y1="246.7" x2="452.3" y2="246.7" stroke="#ececec" stroke-width="0.6" />
<line x1="355.1" y1="232.4" x2="355.1" y2="387.7" stroke="#333" stroke-width="0.8" stroke-dasharray="1.6 1.6"/>
<line x1="400.3" y1="232.4" x2="400.3" y2="387.7" stroke="#333" stroke-width="0.8" stroke-dasharray="1.6 1.6"/>
<line x1="303.3" y1="322.48" x2="452.3" y2="322.48" stroke="#333" stroke-width="0.8" stroke-dasharray="1.6 1.6"/>
<rect x="303.3" y="232.4" width="149" height="155.3" fill="none" stroke="#b0b0b0" stroke-width="0.7" />
<line x1="332.5" y1="387.7" x2="332.5" y2="389.2" stroke="#444" stroke-width="0.5" />
<text x="332.5" y="394.6" font-size="5.6" font-weight="normal" text-anchor="middle" fill="#444" font-family='"Liberation Sans", sans-serif' >−2</text>
<line x1="377.7" y1="387.7" x2="377.7" y2="389.2" stroke="#444" stroke-width="0.5" />
<text x="377.7" y="394.6" font-size="5.6" font-weight="normal" text-anchor="middle" fill="#444" font-family='"Liberation Sans", sans-serif' >0</text>
<line x1="422.9" y1="387.7" x2="422.9" y2="389.2" stroke="#444" stroke-width="0.5" />
<text x="422.9" y="394.6" font-size="5.6" font-weight="normal" text-anchor="middle" fill="#444" font-family='"Liberation Sans", sans-serif' >2</text>
<line x1="301.8" y1="380.5" x2="303.3" y2="380.5" stroke="#444" stroke-width="0.5" />
<text x="301.2" y="382.5" font-size="5.6" font-weight="normal" text-anchor="end" fill="#444" font-family='"Liberation Sans", sans-serif' >0</text>
<line x1="301.8" y1="335.9" x2="303.3" y2="335.9" stroke="#444" stroke-width="0.5" />
<text x="301.2" y="337.9" font-size="5.6" font-weight="normal" text-anchor="end" fill="#444" font-family='"Liberation Sans", sans-serif' >1</text>
<line x1="301.8" y1="291.3" x2="303.3" y2="291.3" stroke="#444" stroke-width="0.5" />
<text x="301.2" y="293.3" font-size="5.6" font-weight="normal" text-anchor="end" fill="#444" font-family='"Liberation Sans", sans-serif' >2</text>
<line x1="301.8" y1="246.7" x2="303.3" y2="246.7" stroke="#444" stroke-width="0.5" />
<text x="301.2" y="248.7" font-size="5.6" font-weight="normal" text-anchor="end" fill="#444" font-family='"Liberation Sans", sans-serif' >3</text>
<text x="377.8" y="405" font-size="6.7" font-weight="bold" text-anchor="middle" fill="#111" font-family='"Liberation Sans", sans-serif' >log2(FC)</text>
<text x="292.6" y="310" font-size="7.1" font-weight="bold" fill="#111" text-anchor="middle" font-family='"Liberation Sans", sans-serif' transform="rotate(-90 292.6 310)">-log10(pVal)</text>
<line x1="347.9" y1="239.3" x2="344.79" y2="242.5" stroke="#333" stroke-width="0.6" />
<line x1="340.4" y1="270.8" x2="343.46" y2="267.6" stroke="#333" stroke-width="0.6" />
<line x1="331.7" y1="282.2" x2="328.8" y2="279.3" stroke="#333" stroke-width="0.6" />
<line x1="350.9" y1="283.9" x2="354.01" y2="280.7" stroke="#333" stroke-width="0.6" />
<line x1="346.3" y1="285.7" x2="343.3" y2="286.31" stroke="#333" stroke-width="0.6" />
<line x1="353.1" y1="295.5" x2="356.01" y2="292.3" stroke="#333" stroke-width="0.6" />
<line x1="344.4" y1="300.6" x2="341.5" y2="300.24" stroke="#333" stroke-width="0.6" />
<line x1="355.6" y1="308.3" x2="357.54" y2="303.5" stroke="#333" stroke-width="0.6" />
<line x1="350.2" y1="310.1" x2="343.9" y2="309.96" stroke="#333" stroke-width="0.6" />
<line x1="360.4" y1="310.1" x2="372.5" y2="308.94" stroke="#333" stroke-width="0.6" />
<line x1="348.2" y1="326.5" x2="345.18" y2="323.7" stroke="#333" stroke-width="0.6" />
<line x1="360.2" y1="325.2" x2="363.11" y2="321.5" stroke="#333" stroke-width="0.6" />
<line x1="344.9" y1="327.8" x2="331.5" y2="330.82" stroke="#333" stroke-width="0.6" />
<line x1="358.6" y1="331.4" x2="355.5" y2="333.3" stroke="#333" stroke-width="0.6" />
<line x1="357.6" y1="337" x2="362.9" y2="331.6" stroke="#333" stroke-width="0.6" />
<line x1="369.6" y1="338.2" x2="373.8" y2="340.9" stroke="#333" stroke-width="0.6" />
<line x1="357.1" y1="338.2" x2="353.7" y2="344.6" stroke="#333" stroke-width="0.6" />
<line x1="359.4" y1="342" x2="359.4" y2="349.6" stroke="#333" stroke-width="0.6" />
<line x1="356.5" y1="347.5" x2="353.4" y2="355.6" stroke="#333" stroke-width="0.6" />
<line x1="373.4" y1="358.6" x2="375.6" y2="362.6" stroke="#333" stroke-width="0.6" />
<circle cx="347.9" cy="239.3" r="1.15" fill="#1f4e9c"/>
<circle cx="340.4" cy="270.8" r="1.15" fill="#1f4e9c"/>
<circle cx="331.7" cy="282.2" r="1.15" fill="#1f4e9c"/>
<circle cx="350.9" cy="283.9" r="1.15" fill="#1f4e9c"/>
<circle cx="346.3" cy="285.7" r="1.15" fill="#1f4e9c"/>
<circle cx="353.1" cy="295.5" r="1.15" fill="#1f4e9c"/>
<circle cx="344.4" cy="300.6" r="1.15" fill="#1f4e9c"/>
<circle cx="355.6" cy="308.3" r="1.15" fill="#c79a4f"/>
<circle cx="350.2" cy="310.1" r="1.15" fill="#1f4e9c"/>
<circle cx="360.4" cy="310.1" r="1.15" fill="#c79a4f"/>
<circle cx="348.2" cy="326.5" r="1.15" fill="#6ea6e0"/>
<circle cx="360.2" cy="325.2" r="1.15" fill="#9a9a9a"/>
<circle cx="344.9" cy="327.8" r="1.15" fill="#6ea6e0"/>
<circle cx="358.6" cy="331.4" r="1.15" fill="#9a9a9a"/>
<circle cx="357.6" cy="337" r="1.15" fill="#9a9a9a"/>
<circle cx="369.6" cy="338.2" r="1.15" fill="#9a9a9a"/>
<circle cx="357.1" cy="338.2" r="1.15" fill="#9a9a9a"/>
<circle cx="359.4" cy="342" r="1.15" fill="#9a9a9a"/>
<circle cx="356.5" cy="347.5" r="1.15" fill="#9a9a9a"/>
<circle cx="373.4" cy="358.6" r="1.15" fill="#9a9a9a"/>
<rect x="336.4" y="242.5" width="12.2" height="4.7" rx="0.9" fill="#f7f7f7" fill-opacity="0.95" stroke="#555" stroke-width="0.5"/>
<text x="342.5" y="246.15" font-size="3.5" font-weight="normal" text-anchor="middle" fill="#111" font-family='"Liberation Sans", sans-serif' >FMR1</text>
<rect x="338.2" y="262.7" width="15.2" height="4.9" rx="0.9" fill="#f7f7f7" fill-opacity="0.95" stroke="#555" stroke-width="0.5"/>
<text x="345.8" y="266.45" font-size="3.5" font-weight="normal" text-anchor="middle" fill="#111" font-family='"Liberation Sans", sans-serif' >ALKBH5</text>
<rect x="317.7" y="274" width="16.9" height="5.3" rx="0.9" fill="#f7f7f7" fill-opacity="0.95" stroke="#555" stroke-width="0.5"/>
<text x="326.15" y="277.95" font-size="3.5" font-weight="normal" text-anchor="middle" fill="#111" font-family='"Liberation Sans", sans-serif' >LRPPRC</text>
<rect x="350.2" y="275.9" width="12.3" height="4.8" rx="0.9" fill="#f7f7f7" fill-opacity="0.95" stroke="#555" stroke-width="0.5"/>
<text x="356.35" y="279.6" font-size="3.5" font-weight="normal" text-anchor="middle" fill="#111" font-family='"Liberation Sans", sans-serif' >WTAP</text>
<rect x="325.5" y="285.7" width="17.8" height="4.8" rx="0.9" fill="#f7f7f7" fill-opacity="0.95" stroke="#555" stroke-width="0.5"/>
<text x="334.4" y="289.4" font-size="3.5" font-weight="normal" text-anchor="middle" fill="#111" font-family='"Liberation Sans", sans-serif' >METTL16</text>
<rect x="349.5" y="287.5" width="17.4" height="4.8" rx="0.9" fill="#f7f7f7" fill-opacity="0.95" stroke="#555" stroke-width="0.5"/>
<text x="358.2" y="291.2" font-size="3.5" font-weight="normal" text-anchor="middle" fill="#111" font-family='"Liberation Sans", sans-serif' >HNRNPC</text>
<rect x="324.7" y="296.7" width="16.8" height="5" rx="0.9" fill="#f7f7f7" fill-opacity="0.95" stroke="#555" stroke-width="0.5"/>
<text x="333.1" y="300.5" font-size="3.5" font-weight="normal" text-anchor="middle" fill="#111" font-family='"Liberation Sans", sans-serif' >IGF2BP2</text>
<rect x="350.2" y="298.5" width="16.7" height="5" rx="0.9" fill="#f7f7f7" fill-opacity="0.95" stroke="#555" stroke-width="0.5"/>
<text x="358.55" y="302.3" font-size="3.5" font-weight="normal" text-anchor="middle" fill="#111" font-family='"Liberation Sans", sans-serif' >IGF2BP3</text>
<rect x="325.9" y="307.2" width="18" height="5.1" rx="0.9" fill="#f7f7f7" fill-opacity="0.95" stroke="#555" stroke-width="0.5"/>
<text x="334.9" y="311.05" font-size="3.5" font-weight="normal" text-anchor="middle" fill="#111" font-family='"Liberation Sans", sans-serif' >KIAA1429</text>
<rect x="372.5" y="305.8" width="14.5" height="4.9" rx="0.9" fill="#f7f7f7" fill-opacity="0.95" stroke="#555" stroke-width="0.5"/>
<text x="379.75" y="309.55" font-size="3.5" font-weight="normal" text-anchor="middle" fill="#111" font-family='"Liberation Sans", sans-serif' >RBM15</text>
<rect x="335" y="319.1" width="15.4" height="4.6" rx="0.9" fill="#f7f7f7" fill-opacity="0.95" stroke="#555" stroke-width="0.5"/>
<text x="342.7" y="322.7" font-size="3.5" font-weight="normal" text-anchor="middle" fill="#111" font-family='"Liberation Sans", sans-serif' >YTHDF3</text>
<rect x="356.8" y="317.2" width="16" height="4.3" rx="0.9" fill="#f7f7f7" fill-opacity="0.95" stroke="#555" stroke-width="0.5"/>
<text x="364.8" y="320.65" font-size="3.5" font-weight="normal" text-anchor="middle" fill="#111" font-family='"Liberation Sans", sans-serif' >YTHDF1</text>
<rect x="318.4" y="329.5" width="13.1" height="5.6" rx="0.9" fill="#f7f7f7" fill-opacity="0.95" stroke="#555" stroke-width="0.5"/>
<text x="324.95" y="333.6" font-size="3.5" font-weight="normal" text-anchor="middle" fill="#111" font-family='"Liberation Sans", sans-serif' >CBLL1</text>
<rect x="337.3" y="331.7" width="18.1" height="5.1" rx="0.9" fill="#f7f7f7" fill-opacity="0.95" stroke="#555" stroke-width="0.5"/>
<text x="346.35" y="335.55" font-size="3.5" font-weight="normal" text-anchor="middle" fill="#111" font-family='"Liberation Sans", sans-serif' >METTL14</text>
<rect x="362.7" y="327.8" width="16" height="4.7" rx="0.9" fill="#f7f7f7" fill-opacity="0.95" stroke="#555" stroke-width="0.5"/>
<text x="370.7" y="331.45" font-size="3.5" font-weight="normal" text-anchor="middle" fill="#111" font-family='"Liberation Sans", sans-serif' >YTHDC1</text>
<rect x="373.7" y="339" width="14.1" height="5.1" rx="0.9" fill="#f7f7f7" fill-opacity="0.95" stroke="#555" stroke-width="0.5"/>
<text x="380.75" y="342.85" font-size="3.5" font-weight="normal" text-anchor="middle" fill="#111" font-family='"Liberation Sans", sans-serif' >ZC3H13</text>
<rect x="337.3" y="343.1" width="16.3" height="5.1" rx="0.9" fill="#f7f7f7" fill-opacity="0.95" stroke="#555" stroke-width="0.5"/>
<text x="345.45" y="346.95" font-size="3.5" font-weight="normal" text-anchor="middle" fill="#111" font-family='"Liberation Sans", sans-serif' >YTHDF2</text>
<rect x="359.3" y="349.6" width="14.7" height="6" rx="0.9" fill="#f7f7f7" fill-opacity="0.95" stroke="#555" stroke-width="0.5"/>
<text x="366.65" y="353.9" font-size="3.5" font-weight="normal" text-anchor="middle" fill="#111" font-family='"Liberation Sans", sans-serif' >YTHDC2</text>
<rect x="331.1" y="354" width="21.8" height="4.9" rx="0.9" fill="#f7f7f7" fill-opacity="0.95" stroke="#555" stroke-width="0.5"/>
<text x="342" y="357.75" font-size="3.5" font-weight="normal" text-anchor="middle" fill="#111" font-family='"Liberation Sans", sans-serif' >HNRNPA2B1</text>
<rect x="375.2" y="362.3" width="9" height="5.1" rx="0.9" fill="#f7f7f7" fill-opacity="0.95" stroke="#555" stroke-width="0.5"/>
<text x="379.7" y="366.15" font-size="3.5" font-weight="normal" text-anchor="middle" fill="#111" font-family='"Liberation Sans", sans-serif' >FTO</text>
<text x="459.4" y="274.8" font-size="6.6" font-weight="bold" text-anchor="start" fill="#111" font-family='"Liberation Sans", sans-serif' >Significant</text>
<circle cx="464.5" cy="288.5" r="1.25" fill="#d7263d"/>
<text x="473.8" y="290.4" font-size="5.25" font-weight="normal" text-anchor="start" fill="#222" font-family='"Liberation Sans", sans-serif' >Sig_Up (0)</text>
<circle cx="464.5" cy="299.8" r="1.25" fill="#f2a0ac"/>
<text x="473.8" y="301.7" font-size="5.25" font-weight="normal" text-anchor="start" fill="#222" font-family='"Liberation Sans", sans-serif' >FC_Up_Only (0)</text>
<circle cx="464.5" cy="311.1" r="1.25" fill="#d39a52"/>
<text x="473.8" y="313" font-size="5.25" font-weight="normal" text-anchor="start" fill="#222" font-family='"Liberation Sans", sans-serif' >pVal_Only (2)</text>
<circle cx="464.5" cy="322.4" r="1.25" fill="#9a9a9a"/>
<text x="473.8" y="324.3" font-size="5.25" font-weight="normal" text-anchor="start" fill="#222" font-family='"Liberation Sans", sans-serif' >NoDiff (8)</text>
<circle cx="464.5" cy="333.7" r="1.25" fill="#74aee8"/>
<text x="473.8" y="335.6" font-size="5.25" font-weight="normal" text-anchor="start" fill="#222" font-family='"Liberation Sans", sans-serif' >FC_Down_Only (2)</text>
<circle cx="464.5" cy="345" r="1.25" fill="#1f4e9c"/>
<text x="473.8" y="346.9" font-size="5.25" font-weight="normal" text-anchor="start" fill="#222" font-family='"Liberation Sans", sans-serif' >Sig_Down (8)</text>
</svg>
</body></html>
